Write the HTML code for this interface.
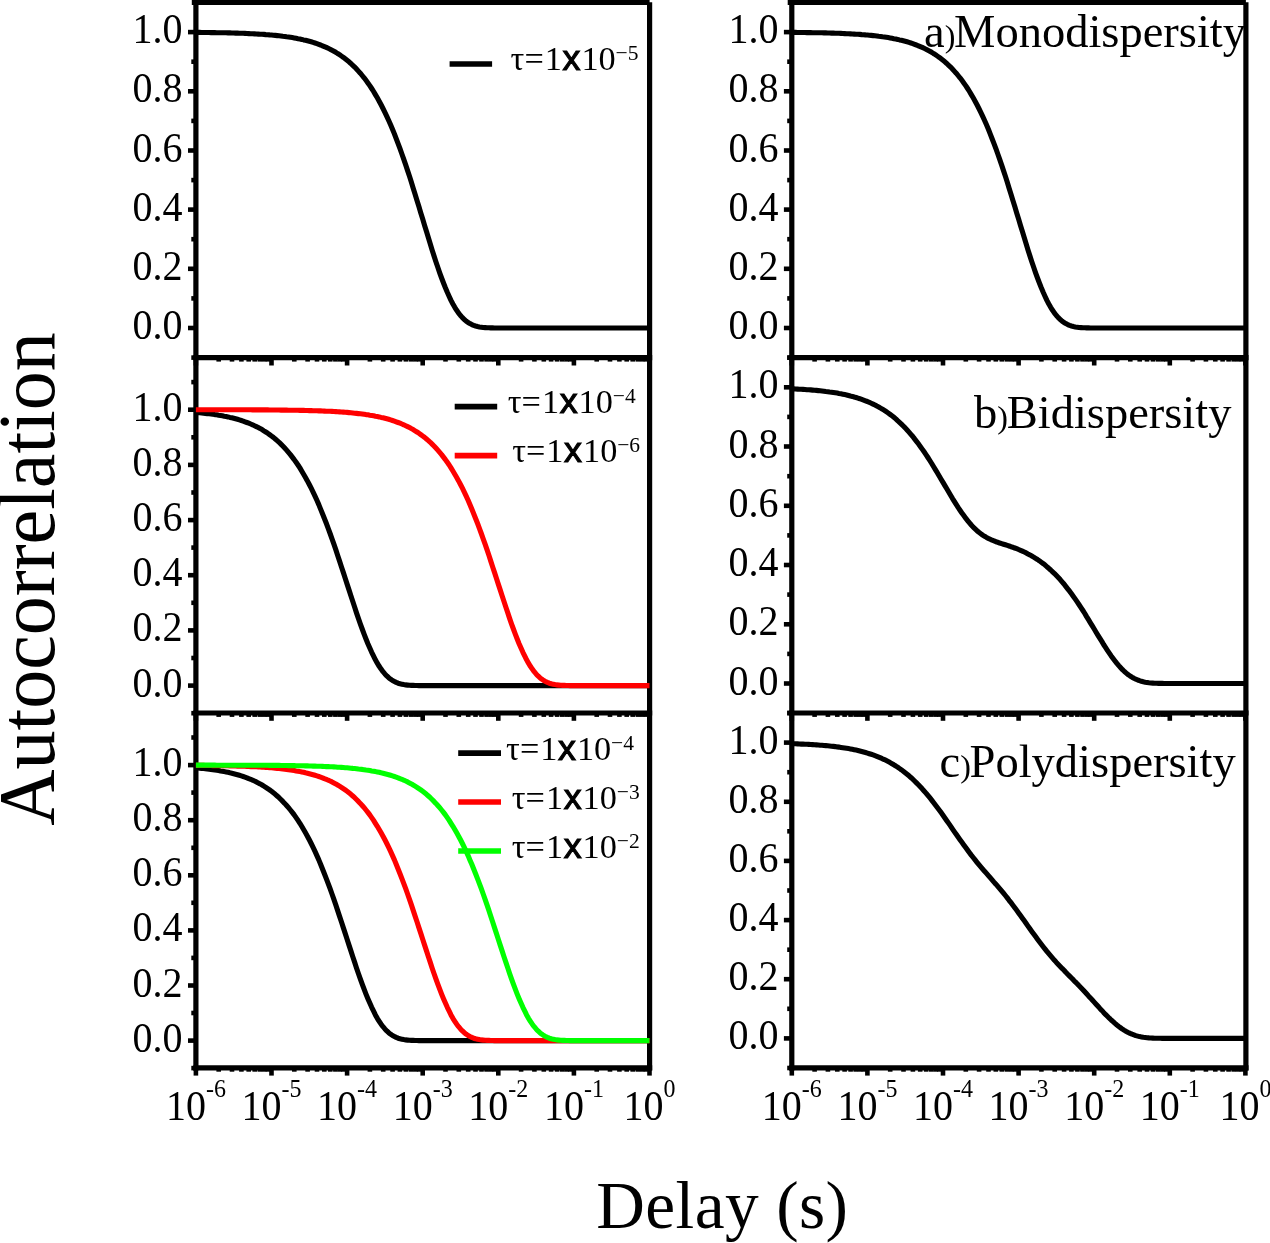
<!DOCTYPE html>
<html lang="en"><head><meta charset="utf-8"><title>Autocorrelation vs Delay</title>
<style>html,body{margin:0;padding:0;background:#fff}svg{display:block}</style>
</head><body>
<svg width="1270" height="1243" viewBox="0 0 1270 1243">
<rect width="1270" height="1243" fill="#fff"/>
<g stroke="#000" fill="none">
<line x1="195.9" y1="0" x2="195.9" y2="1070.3999999999999" stroke-width="5.2"/>
<line x1="649.6" y1="2.3" x2="649.6" y2="1070.3999999999999" stroke-width="5.2"/>
<line x1="191.8" y1="2.3" x2="649.6" y2="2.3" stroke-width="5.2"/>
<line x1="193.3" y1="357.7" x2="652.2" y2="357.7" stroke-width="5.2"/>
<line x1="193.3" y1="713.0" x2="652.2" y2="713.0" stroke-width="5.2"/>
<line x1="193.3" y1="1067.8" x2="652.2" y2="1067.8" stroke-width="5.2"/>
<line x1="195.9" y1="357.7" x2="195.9" y2="365.5" stroke-width="4.6"/>
<line x1="218.7" y1="357.7" x2="218.7" y2="361.6" stroke-width="4.6"/>
<line x1="232.0" y1="357.7" x2="232.0" y2="361.6" stroke-width="4.6"/>
<line x1="241.4" y1="357.7" x2="241.4" y2="361.6" stroke-width="4.6"/>
<line x1="248.7" y1="357.7" x2="248.7" y2="361.6" stroke-width="4.6"/>
<line x1="254.7" y1="357.7" x2="254.7" y2="361.6" stroke-width="4.6"/>
<line x1="259.8" y1="357.7" x2="259.8" y2="361.6" stroke-width="4.6"/>
<line x1="264.2" y1="357.7" x2="264.2" y2="361.6" stroke-width="4.6"/>
<line x1="268.0" y1="357.7" x2="268.0" y2="361.6" stroke-width="4.6"/>
<line x1="271.5" y1="357.7" x2="271.5" y2="365.5" stroke-width="4.6"/>
<line x1="294.3" y1="357.7" x2="294.3" y2="361.6" stroke-width="4.6"/>
<line x1="307.6" y1="357.7" x2="307.6" y2="361.6" stroke-width="4.6"/>
<line x1="317.0" y1="357.7" x2="317.0" y2="361.6" stroke-width="4.6"/>
<line x1="324.3" y1="357.7" x2="324.3" y2="361.6" stroke-width="4.6"/>
<line x1="330.3" y1="357.7" x2="330.3" y2="361.6" stroke-width="4.6"/>
<line x1="335.4" y1="357.7" x2="335.4" y2="361.6" stroke-width="4.6"/>
<line x1="339.8" y1="357.7" x2="339.8" y2="361.6" stroke-width="4.6"/>
<line x1="343.6" y1="357.7" x2="343.6" y2="361.6" stroke-width="4.6"/>
<line x1="347.1" y1="357.7" x2="347.1" y2="365.5" stroke-width="4.6"/>
<line x1="369.9" y1="357.7" x2="369.9" y2="361.6" stroke-width="4.6"/>
<line x1="383.2" y1="357.7" x2="383.2" y2="361.6" stroke-width="4.6"/>
<line x1="392.6" y1="357.7" x2="392.6" y2="361.6" stroke-width="4.6"/>
<line x1="399.9" y1="357.7" x2="399.9" y2="361.6" stroke-width="4.6"/>
<line x1="405.9" y1="357.7" x2="405.9" y2="361.6" stroke-width="4.6"/>
<line x1="411.0" y1="357.7" x2="411.0" y2="361.6" stroke-width="4.6"/>
<line x1="415.4" y1="357.7" x2="415.4" y2="361.6" stroke-width="4.6"/>
<line x1="419.2" y1="357.7" x2="419.2" y2="361.6" stroke-width="4.6"/>
<line x1="422.7" y1="357.7" x2="422.7" y2="365.5" stroke-width="4.6"/>
<line x1="445.5" y1="357.7" x2="445.5" y2="361.6" stroke-width="4.6"/>
<line x1="458.8" y1="357.7" x2="458.8" y2="361.6" stroke-width="4.6"/>
<line x1="468.2" y1="357.7" x2="468.2" y2="361.6" stroke-width="4.6"/>
<line x1="475.5" y1="357.7" x2="475.5" y2="361.6" stroke-width="4.6"/>
<line x1="481.5" y1="357.7" x2="481.5" y2="361.6" stroke-width="4.6"/>
<line x1="486.6" y1="357.7" x2="486.6" y2="361.6" stroke-width="4.6"/>
<line x1="491.0" y1="357.7" x2="491.0" y2="361.6" stroke-width="4.6"/>
<line x1="494.8" y1="357.7" x2="494.8" y2="361.6" stroke-width="4.6"/>
<line x1="498.3" y1="357.7" x2="498.3" y2="365.5" stroke-width="4.6"/>
<line x1="521.1" y1="357.7" x2="521.1" y2="361.6" stroke-width="4.6"/>
<line x1="534.4" y1="357.7" x2="534.4" y2="361.6" stroke-width="4.6"/>
<line x1="543.8" y1="357.7" x2="543.8" y2="361.6" stroke-width="4.6"/>
<line x1="551.1" y1="357.7" x2="551.1" y2="361.6" stroke-width="4.6"/>
<line x1="557.1" y1="357.7" x2="557.1" y2="361.6" stroke-width="4.6"/>
<line x1="562.2" y1="357.7" x2="562.2" y2="361.6" stroke-width="4.6"/>
<line x1="566.6" y1="357.7" x2="566.6" y2="361.6" stroke-width="4.6"/>
<line x1="570.4" y1="357.7" x2="570.4" y2="361.6" stroke-width="4.6"/>
<line x1="573.9" y1="357.7" x2="573.9" y2="365.5" stroke-width="4.6"/>
<line x1="596.7" y1="357.7" x2="596.7" y2="361.6" stroke-width="4.6"/>
<line x1="610.0" y1="357.7" x2="610.0" y2="361.6" stroke-width="4.6"/>
<line x1="619.4" y1="357.7" x2="619.4" y2="361.6" stroke-width="4.6"/>
<line x1="626.7" y1="357.7" x2="626.7" y2="361.6" stroke-width="4.6"/>
<line x1="632.7" y1="357.7" x2="632.7" y2="361.6" stroke-width="4.6"/>
<line x1="637.8" y1="357.7" x2="637.8" y2="361.6" stroke-width="4.6"/>
<line x1="642.2" y1="357.7" x2="642.2" y2="361.6" stroke-width="4.6"/>
<line x1="646.0" y1="357.7" x2="646.0" y2="361.6" stroke-width="4.6"/>
<line x1="649.5" y1="357.7" x2="649.5" y2="365.5" stroke-width="4.6"/>
<line x1="195.9" y1="713.0" x2="195.9" y2="720.8" stroke-width="4.6"/>
<line x1="218.7" y1="713.0" x2="218.7" y2="716.9" stroke-width="4.6"/>
<line x1="232.0" y1="713.0" x2="232.0" y2="716.9" stroke-width="4.6"/>
<line x1="241.4" y1="713.0" x2="241.4" y2="716.9" stroke-width="4.6"/>
<line x1="248.7" y1="713.0" x2="248.7" y2="716.9" stroke-width="4.6"/>
<line x1="254.7" y1="713.0" x2="254.7" y2="716.9" stroke-width="4.6"/>
<line x1="259.8" y1="713.0" x2="259.8" y2="716.9" stroke-width="4.6"/>
<line x1="264.2" y1="713.0" x2="264.2" y2="716.9" stroke-width="4.6"/>
<line x1="268.0" y1="713.0" x2="268.0" y2="716.9" stroke-width="4.6"/>
<line x1="271.5" y1="713.0" x2="271.5" y2="720.8" stroke-width="4.6"/>
<line x1="294.3" y1="713.0" x2="294.3" y2="716.9" stroke-width="4.6"/>
<line x1="307.6" y1="713.0" x2="307.6" y2="716.9" stroke-width="4.6"/>
<line x1="317.0" y1="713.0" x2="317.0" y2="716.9" stroke-width="4.6"/>
<line x1="324.3" y1="713.0" x2="324.3" y2="716.9" stroke-width="4.6"/>
<line x1="330.3" y1="713.0" x2="330.3" y2="716.9" stroke-width="4.6"/>
<line x1="335.4" y1="713.0" x2="335.4" y2="716.9" stroke-width="4.6"/>
<line x1="339.8" y1="713.0" x2="339.8" y2="716.9" stroke-width="4.6"/>
<line x1="343.6" y1="713.0" x2="343.6" y2="716.9" stroke-width="4.6"/>
<line x1="347.1" y1="713.0" x2="347.1" y2="720.8" stroke-width="4.6"/>
<line x1="369.9" y1="713.0" x2="369.9" y2="716.9" stroke-width="4.6"/>
<line x1="383.2" y1="713.0" x2="383.2" y2="716.9" stroke-width="4.6"/>
<line x1="392.6" y1="713.0" x2="392.6" y2="716.9" stroke-width="4.6"/>
<line x1="399.9" y1="713.0" x2="399.9" y2="716.9" stroke-width="4.6"/>
<line x1="405.9" y1="713.0" x2="405.9" y2="716.9" stroke-width="4.6"/>
<line x1="411.0" y1="713.0" x2="411.0" y2="716.9" stroke-width="4.6"/>
<line x1="415.4" y1="713.0" x2="415.4" y2="716.9" stroke-width="4.6"/>
<line x1="419.2" y1="713.0" x2="419.2" y2="716.9" stroke-width="4.6"/>
<line x1="422.7" y1="713.0" x2="422.7" y2="720.8" stroke-width="4.6"/>
<line x1="445.5" y1="713.0" x2="445.5" y2="716.9" stroke-width="4.6"/>
<line x1="458.8" y1="713.0" x2="458.8" y2="716.9" stroke-width="4.6"/>
<line x1="468.2" y1="713.0" x2="468.2" y2="716.9" stroke-width="4.6"/>
<line x1="475.5" y1="713.0" x2="475.5" y2="716.9" stroke-width="4.6"/>
<line x1="481.5" y1="713.0" x2="481.5" y2="716.9" stroke-width="4.6"/>
<line x1="486.6" y1="713.0" x2="486.6" y2="716.9" stroke-width="4.6"/>
<line x1="491.0" y1="713.0" x2="491.0" y2="716.9" stroke-width="4.6"/>
<line x1="494.8" y1="713.0" x2="494.8" y2="716.9" stroke-width="4.6"/>
<line x1="498.3" y1="713.0" x2="498.3" y2="720.8" stroke-width="4.6"/>
<line x1="521.1" y1="713.0" x2="521.1" y2="716.9" stroke-width="4.6"/>
<line x1="534.4" y1="713.0" x2="534.4" y2="716.9" stroke-width="4.6"/>
<line x1="543.8" y1="713.0" x2="543.8" y2="716.9" stroke-width="4.6"/>
<line x1="551.1" y1="713.0" x2="551.1" y2="716.9" stroke-width="4.6"/>
<line x1="557.1" y1="713.0" x2="557.1" y2="716.9" stroke-width="4.6"/>
<line x1="562.2" y1="713.0" x2="562.2" y2="716.9" stroke-width="4.6"/>
<line x1="566.6" y1="713.0" x2="566.6" y2="716.9" stroke-width="4.6"/>
<line x1="570.4" y1="713.0" x2="570.4" y2="716.9" stroke-width="4.6"/>
<line x1="573.9" y1="713.0" x2="573.9" y2="720.8" stroke-width="4.6"/>
<line x1="596.7" y1="713.0" x2="596.7" y2="716.9" stroke-width="4.6"/>
<line x1="610.0" y1="713.0" x2="610.0" y2="716.9" stroke-width="4.6"/>
<line x1="619.4" y1="713.0" x2="619.4" y2="716.9" stroke-width="4.6"/>
<line x1="626.7" y1="713.0" x2="626.7" y2="716.9" stroke-width="4.6"/>
<line x1="632.7" y1="713.0" x2="632.7" y2="716.9" stroke-width="4.6"/>
<line x1="637.8" y1="713.0" x2="637.8" y2="716.9" stroke-width="4.6"/>
<line x1="642.2" y1="713.0" x2="642.2" y2="716.9" stroke-width="4.6"/>
<line x1="646.0" y1="713.0" x2="646.0" y2="716.9" stroke-width="4.6"/>
<line x1="649.5" y1="713.0" x2="649.5" y2="720.8" stroke-width="4.6"/>
<line x1="195.9" y1="1067.8" x2="195.9" y2="1075.6" stroke-width="4.6"/>
<line x1="218.7" y1="1067.8" x2="218.7" y2="1071.7" stroke-width="4.6"/>
<line x1="232.0" y1="1067.8" x2="232.0" y2="1071.7" stroke-width="4.6"/>
<line x1="241.4" y1="1067.8" x2="241.4" y2="1071.7" stroke-width="4.6"/>
<line x1="248.7" y1="1067.8" x2="248.7" y2="1071.7" stroke-width="4.6"/>
<line x1="254.7" y1="1067.8" x2="254.7" y2="1071.7" stroke-width="4.6"/>
<line x1="259.8" y1="1067.8" x2="259.8" y2="1071.7" stroke-width="4.6"/>
<line x1="264.2" y1="1067.8" x2="264.2" y2="1071.7" stroke-width="4.6"/>
<line x1="268.0" y1="1067.8" x2="268.0" y2="1071.7" stroke-width="4.6"/>
<line x1="271.5" y1="1067.8" x2="271.5" y2="1075.6" stroke-width="4.6"/>
<line x1="294.3" y1="1067.8" x2="294.3" y2="1071.7" stroke-width="4.6"/>
<line x1="307.6" y1="1067.8" x2="307.6" y2="1071.7" stroke-width="4.6"/>
<line x1="317.0" y1="1067.8" x2="317.0" y2="1071.7" stroke-width="4.6"/>
<line x1="324.3" y1="1067.8" x2="324.3" y2="1071.7" stroke-width="4.6"/>
<line x1="330.3" y1="1067.8" x2="330.3" y2="1071.7" stroke-width="4.6"/>
<line x1="335.4" y1="1067.8" x2="335.4" y2="1071.7" stroke-width="4.6"/>
<line x1="339.8" y1="1067.8" x2="339.8" y2="1071.7" stroke-width="4.6"/>
<line x1="343.6" y1="1067.8" x2="343.6" y2="1071.7" stroke-width="4.6"/>
<line x1="347.1" y1="1067.8" x2="347.1" y2="1075.6" stroke-width="4.6"/>
<line x1="369.9" y1="1067.8" x2="369.9" y2="1071.7" stroke-width="4.6"/>
<line x1="383.2" y1="1067.8" x2="383.2" y2="1071.7" stroke-width="4.6"/>
<line x1="392.6" y1="1067.8" x2="392.6" y2="1071.7" stroke-width="4.6"/>
<line x1="399.9" y1="1067.8" x2="399.9" y2="1071.7" stroke-width="4.6"/>
<line x1="405.9" y1="1067.8" x2="405.9" y2="1071.7" stroke-width="4.6"/>
<line x1="411.0" y1="1067.8" x2="411.0" y2="1071.7" stroke-width="4.6"/>
<line x1="415.4" y1="1067.8" x2="415.4" y2="1071.7" stroke-width="4.6"/>
<line x1="419.2" y1="1067.8" x2="419.2" y2="1071.7" stroke-width="4.6"/>
<line x1="422.7" y1="1067.8" x2="422.7" y2="1075.6" stroke-width="4.6"/>
<line x1="445.5" y1="1067.8" x2="445.5" y2="1071.7" stroke-width="4.6"/>
<line x1="458.8" y1="1067.8" x2="458.8" y2="1071.7" stroke-width="4.6"/>
<line x1="468.2" y1="1067.8" x2="468.2" y2="1071.7" stroke-width="4.6"/>
<line x1="475.5" y1="1067.8" x2="475.5" y2="1071.7" stroke-width="4.6"/>
<line x1="481.5" y1="1067.8" x2="481.5" y2="1071.7" stroke-width="4.6"/>
<line x1="486.6" y1="1067.8" x2="486.6" y2="1071.7" stroke-width="4.6"/>
<line x1="491.0" y1="1067.8" x2="491.0" y2="1071.7" stroke-width="4.6"/>
<line x1="494.8" y1="1067.8" x2="494.8" y2="1071.7" stroke-width="4.6"/>
<line x1="498.3" y1="1067.8" x2="498.3" y2="1075.6" stroke-width="4.6"/>
<line x1="521.1" y1="1067.8" x2="521.1" y2="1071.7" stroke-width="4.6"/>
<line x1="534.4" y1="1067.8" x2="534.4" y2="1071.7" stroke-width="4.6"/>
<line x1="543.8" y1="1067.8" x2="543.8" y2="1071.7" stroke-width="4.6"/>
<line x1="551.1" y1="1067.8" x2="551.1" y2="1071.7" stroke-width="4.6"/>
<line x1="557.1" y1="1067.8" x2="557.1" y2="1071.7" stroke-width="4.6"/>
<line x1="562.2" y1="1067.8" x2="562.2" y2="1071.7" stroke-width="4.6"/>
<line x1="566.6" y1="1067.8" x2="566.6" y2="1071.7" stroke-width="4.6"/>
<line x1="570.4" y1="1067.8" x2="570.4" y2="1071.7" stroke-width="4.6"/>
<line x1="573.9" y1="1067.8" x2="573.9" y2="1075.6" stroke-width="4.6"/>
<line x1="596.7" y1="1067.8" x2="596.7" y2="1071.7" stroke-width="4.6"/>
<line x1="610.0" y1="1067.8" x2="610.0" y2="1071.7" stroke-width="4.6"/>
<line x1="619.4" y1="1067.8" x2="619.4" y2="1071.7" stroke-width="4.6"/>
<line x1="626.7" y1="1067.8" x2="626.7" y2="1071.7" stroke-width="4.6"/>
<line x1="632.7" y1="1067.8" x2="632.7" y2="1071.7" stroke-width="4.6"/>
<line x1="637.8" y1="1067.8" x2="637.8" y2="1071.7" stroke-width="4.6"/>
<line x1="642.2" y1="1067.8" x2="642.2" y2="1071.7" stroke-width="4.6"/>
<line x1="646.0" y1="1067.8" x2="646.0" y2="1071.7" stroke-width="4.6"/>
<line x1="649.5" y1="1067.8" x2="649.5" y2="1075.6" stroke-width="4.6"/>
<line x1="191.3" y1="357.6" x2="195.9" y2="357.6" stroke-width="4.6"/>
<line x1="188.0" y1="328.0" x2="195.9" y2="328.0" stroke-width="4.6"/>
<line x1="191.3" y1="298.4" x2="195.9" y2="298.4" stroke-width="4.6"/>
<line x1="188.0" y1="268.8" x2="195.9" y2="268.8" stroke-width="4.6"/>
<line x1="191.3" y1="239.2" x2="195.9" y2="239.2" stroke-width="4.6"/>
<line x1="188.0" y1="209.6" x2="195.9" y2="209.6" stroke-width="4.6"/>
<line x1="191.3" y1="180.1" x2="195.9" y2="180.1" stroke-width="4.6"/>
<line x1="188.0" y1="150.5" x2="195.9" y2="150.5" stroke-width="4.6"/>
<line x1="191.3" y1="120.9" x2="195.9" y2="120.9" stroke-width="4.6"/>
<line x1="188.0" y1="91.3" x2="195.9" y2="91.3" stroke-width="4.6"/>
<line x1="191.3" y1="61.7" x2="195.9" y2="61.7" stroke-width="4.6"/>
<line x1="188.0" y1="32.1" x2="195.9" y2="32.1" stroke-width="4.6"/>
<line x1="191.3" y1="713.2" x2="195.9" y2="713.2" stroke-width="4.6"/>
<line x1="188.0" y1="685.6" x2="195.9" y2="685.6" stroke-width="4.6"/>
<line x1="191.3" y1="658.0" x2="195.9" y2="658.0" stroke-width="4.6"/>
<line x1="188.0" y1="630.4" x2="195.9" y2="630.4" stroke-width="4.6"/>
<line x1="191.3" y1="602.8" x2="195.9" y2="602.8" stroke-width="4.6"/>
<line x1="188.0" y1="575.2" x2="195.9" y2="575.2" stroke-width="4.6"/>
<line x1="191.3" y1="547.6" x2="195.9" y2="547.6" stroke-width="4.6"/>
<line x1="188.0" y1="520.1" x2="195.9" y2="520.1" stroke-width="4.6"/>
<line x1="191.3" y1="492.5" x2="195.9" y2="492.5" stroke-width="4.6"/>
<line x1="188.0" y1="464.9" x2="195.9" y2="464.9" stroke-width="4.6"/>
<line x1="191.3" y1="437.3" x2="195.9" y2="437.3" stroke-width="4.6"/>
<line x1="188.0" y1="409.7" x2="195.9" y2="409.7" stroke-width="4.6"/>
<line x1="191.3" y1="382.1" x2="195.9" y2="382.1" stroke-width="4.6"/>
<line x1="191.3" y1="1068.1" x2="195.9" y2="1068.1" stroke-width="4.6"/>
<line x1="188.0" y1="1040.6" x2="195.9" y2="1040.6" stroke-width="4.6"/>
<line x1="191.3" y1="1013.0" x2="195.9" y2="1013.0" stroke-width="4.6"/>
<line x1="188.0" y1="985.5" x2="195.9" y2="985.5" stroke-width="4.6"/>
<line x1="191.3" y1="957.9" x2="195.9" y2="957.9" stroke-width="4.6"/>
<line x1="188.0" y1="930.4" x2="195.9" y2="930.4" stroke-width="4.6"/>
<line x1="191.3" y1="902.8" x2="195.9" y2="902.8" stroke-width="4.6"/>
<line x1="188.0" y1="875.3" x2="195.9" y2="875.3" stroke-width="4.6"/>
<line x1="191.3" y1="847.8" x2="195.9" y2="847.8" stroke-width="4.6"/>
<line x1="188.0" y1="820.2" x2="195.9" y2="820.2" stroke-width="4.6"/>
<line x1="191.3" y1="792.6" x2="195.9" y2="792.6" stroke-width="4.6"/>
<line x1="188.0" y1="765.1" x2="195.9" y2="765.1" stroke-width="4.6"/>
<line x1="191.3" y1="737.5" x2="195.9" y2="737.5" stroke-width="4.6"/>
<line x1="791.8" y1="0" x2="791.8" y2="1070.3999999999999" stroke-width="5.2"/>
<line x1="1245.9" y1="2.3" x2="1245.9" y2="1070.3999999999999" stroke-width="5.2"/>
<line x1="787.6999999999999" y1="2.3" x2="1245.9" y2="2.3" stroke-width="5.2"/>
<line x1="789.1999999999999" y1="357.7" x2="1248.5" y2="357.7" stroke-width="5.2"/>
<line x1="789.1999999999999" y1="713.0" x2="1248.5" y2="713.0" stroke-width="5.2"/>
<line x1="789.1999999999999" y1="1067.8" x2="1248.5" y2="1067.8" stroke-width="5.2"/>
<line x1="791.8" y1="357.7" x2="791.8" y2="365.5" stroke-width="4.6"/>
<line x1="814.6" y1="357.7" x2="814.6" y2="361.6" stroke-width="4.6"/>
<line x1="827.9" y1="357.7" x2="827.9" y2="361.6" stroke-width="4.6"/>
<line x1="837.3" y1="357.7" x2="837.3" y2="361.6" stroke-width="4.6"/>
<line x1="844.6" y1="357.7" x2="844.6" y2="361.6" stroke-width="4.6"/>
<line x1="850.6" y1="357.7" x2="850.6" y2="361.6" stroke-width="4.6"/>
<line x1="855.7" y1="357.7" x2="855.7" y2="361.6" stroke-width="4.6"/>
<line x1="860.1" y1="357.7" x2="860.1" y2="361.6" stroke-width="4.6"/>
<line x1="863.9" y1="357.7" x2="863.9" y2="361.6" stroke-width="4.6"/>
<line x1="867.4" y1="357.7" x2="867.4" y2="365.5" stroke-width="4.6"/>
<line x1="890.2" y1="357.7" x2="890.2" y2="361.6" stroke-width="4.6"/>
<line x1="903.5" y1="357.7" x2="903.5" y2="361.6" stroke-width="4.6"/>
<line x1="912.9" y1="357.7" x2="912.9" y2="361.6" stroke-width="4.6"/>
<line x1="920.2" y1="357.7" x2="920.2" y2="361.6" stroke-width="4.6"/>
<line x1="926.2" y1="357.7" x2="926.2" y2="361.6" stroke-width="4.6"/>
<line x1="931.3" y1="357.7" x2="931.3" y2="361.6" stroke-width="4.6"/>
<line x1="935.7" y1="357.7" x2="935.7" y2="361.6" stroke-width="4.6"/>
<line x1="939.5" y1="357.7" x2="939.5" y2="361.6" stroke-width="4.6"/>
<line x1="943.0" y1="357.7" x2="943.0" y2="365.5" stroke-width="4.6"/>
<line x1="965.8" y1="357.7" x2="965.8" y2="361.6" stroke-width="4.6"/>
<line x1="979.1" y1="357.7" x2="979.1" y2="361.6" stroke-width="4.6"/>
<line x1="988.5" y1="357.7" x2="988.5" y2="361.6" stroke-width="4.6"/>
<line x1="995.8" y1="357.7" x2="995.8" y2="361.6" stroke-width="4.6"/>
<line x1="1001.8" y1="357.7" x2="1001.8" y2="361.6" stroke-width="4.6"/>
<line x1="1006.9" y1="357.7" x2="1006.9" y2="361.6" stroke-width="4.6"/>
<line x1="1011.3" y1="357.7" x2="1011.3" y2="361.6" stroke-width="4.6"/>
<line x1="1015.1" y1="357.7" x2="1015.1" y2="361.6" stroke-width="4.6"/>
<line x1="1018.6" y1="357.7" x2="1018.6" y2="365.5" stroke-width="4.6"/>
<line x1="1041.4" y1="357.7" x2="1041.4" y2="361.6" stroke-width="4.6"/>
<line x1="1054.7" y1="357.7" x2="1054.7" y2="361.6" stroke-width="4.6"/>
<line x1="1064.1" y1="357.7" x2="1064.1" y2="361.6" stroke-width="4.6"/>
<line x1="1071.4" y1="357.7" x2="1071.4" y2="361.6" stroke-width="4.6"/>
<line x1="1077.4" y1="357.7" x2="1077.4" y2="361.6" stroke-width="4.6"/>
<line x1="1082.5" y1="357.7" x2="1082.5" y2="361.6" stroke-width="4.6"/>
<line x1="1086.9" y1="357.7" x2="1086.9" y2="361.6" stroke-width="4.6"/>
<line x1="1090.7" y1="357.7" x2="1090.7" y2="361.6" stroke-width="4.6"/>
<line x1="1094.2" y1="357.7" x2="1094.2" y2="365.5" stroke-width="4.6"/>
<line x1="1117.0" y1="357.7" x2="1117.0" y2="361.6" stroke-width="4.6"/>
<line x1="1130.3" y1="357.7" x2="1130.3" y2="361.6" stroke-width="4.6"/>
<line x1="1139.7" y1="357.7" x2="1139.7" y2="361.6" stroke-width="4.6"/>
<line x1="1147.0" y1="357.7" x2="1147.0" y2="361.6" stroke-width="4.6"/>
<line x1="1153.0" y1="357.7" x2="1153.0" y2="361.6" stroke-width="4.6"/>
<line x1="1158.1" y1="357.7" x2="1158.1" y2="361.6" stroke-width="4.6"/>
<line x1="1162.5" y1="357.7" x2="1162.5" y2="361.6" stroke-width="4.6"/>
<line x1="1166.3" y1="357.7" x2="1166.3" y2="361.6" stroke-width="4.6"/>
<line x1="1169.8" y1="357.7" x2="1169.8" y2="365.5" stroke-width="4.6"/>
<line x1="1192.6" y1="357.7" x2="1192.6" y2="361.6" stroke-width="4.6"/>
<line x1="1205.9" y1="357.7" x2="1205.9" y2="361.6" stroke-width="4.6"/>
<line x1="1215.3" y1="357.7" x2="1215.3" y2="361.6" stroke-width="4.6"/>
<line x1="1222.6" y1="357.7" x2="1222.6" y2="361.6" stroke-width="4.6"/>
<line x1="1228.6" y1="357.7" x2="1228.6" y2="361.6" stroke-width="4.6"/>
<line x1="1233.7" y1="357.7" x2="1233.7" y2="361.6" stroke-width="4.6"/>
<line x1="1238.1" y1="357.7" x2="1238.1" y2="361.6" stroke-width="4.6"/>
<line x1="1241.9" y1="357.7" x2="1241.9" y2="361.6" stroke-width="4.6"/>
<line x1="1245.4" y1="357.7" x2="1245.4" y2="365.5" stroke-width="4.6"/>
<line x1="791.8" y1="713.0" x2="791.8" y2="720.8" stroke-width="4.6"/>
<line x1="814.6" y1="713.0" x2="814.6" y2="716.9" stroke-width="4.6"/>
<line x1="827.9" y1="713.0" x2="827.9" y2="716.9" stroke-width="4.6"/>
<line x1="837.3" y1="713.0" x2="837.3" y2="716.9" stroke-width="4.6"/>
<line x1="844.6" y1="713.0" x2="844.6" y2="716.9" stroke-width="4.6"/>
<line x1="850.6" y1="713.0" x2="850.6" y2="716.9" stroke-width="4.6"/>
<line x1="855.7" y1="713.0" x2="855.7" y2="716.9" stroke-width="4.6"/>
<line x1="860.1" y1="713.0" x2="860.1" y2="716.9" stroke-width="4.6"/>
<line x1="863.9" y1="713.0" x2="863.9" y2="716.9" stroke-width="4.6"/>
<line x1="867.4" y1="713.0" x2="867.4" y2="720.8" stroke-width="4.6"/>
<line x1="890.2" y1="713.0" x2="890.2" y2="716.9" stroke-width="4.6"/>
<line x1="903.5" y1="713.0" x2="903.5" y2="716.9" stroke-width="4.6"/>
<line x1="912.9" y1="713.0" x2="912.9" y2="716.9" stroke-width="4.6"/>
<line x1="920.2" y1="713.0" x2="920.2" y2="716.9" stroke-width="4.6"/>
<line x1="926.2" y1="713.0" x2="926.2" y2="716.9" stroke-width="4.6"/>
<line x1="931.3" y1="713.0" x2="931.3" y2="716.9" stroke-width="4.6"/>
<line x1="935.7" y1="713.0" x2="935.7" y2="716.9" stroke-width="4.6"/>
<line x1="939.5" y1="713.0" x2="939.5" y2="716.9" stroke-width="4.6"/>
<line x1="943.0" y1="713.0" x2="943.0" y2="720.8" stroke-width="4.6"/>
<line x1="965.8" y1="713.0" x2="965.8" y2="716.9" stroke-width="4.6"/>
<line x1="979.1" y1="713.0" x2="979.1" y2="716.9" stroke-width="4.6"/>
<line x1="988.5" y1="713.0" x2="988.5" y2="716.9" stroke-width="4.6"/>
<line x1="995.8" y1="713.0" x2="995.8" y2="716.9" stroke-width="4.6"/>
<line x1="1001.8" y1="713.0" x2="1001.8" y2="716.9" stroke-width="4.6"/>
<line x1="1006.9" y1="713.0" x2="1006.9" y2="716.9" stroke-width="4.6"/>
<line x1="1011.3" y1="713.0" x2="1011.3" y2="716.9" stroke-width="4.6"/>
<line x1="1015.1" y1="713.0" x2="1015.1" y2="716.9" stroke-width="4.6"/>
<line x1="1018.6" y1="713.0" x2="1018.6" y2="720.8" stroke-width="4.6"/>
<line x1="1041.4" y1="713.0" x2="1041.4" y2="716.9" stroke-width="4.6"/>
<line x1="1054.7" y1="713.0" x2="1054.7" y2="716.9" stroke-width="4.6"/>
<line x1="1064.1" y1="713.0" x2="1064.1" y2="716.9" stroke-width="4.6"/>
<line x1="1071.4" y1="713.0" x2="1071.4" y2="716.9" stroke-width="4.6"/>
<line x1="1077.4" y1="713.0" x2="1077.4" y2="716.9" stroke-width="4.6"/>
<line x1="1082.5" y1="713.0" x2="1082.5" y2="716.9" stroke-width="4.6"/>
<line x1="1086.9" y1="713.0" x2="1086.9" y2="716.9" stroke-width="4.6"/>
<line x1="1090.7" y1="713.0" x2="1090.7" y2="716.9" stroke-width="4.6"/>
<line x1="1094.2" y1="713.0" x2="1094.2" y2="720.8" stroke-width="4.6"/>
<line x1="1117.0" y1="713.0" x2="1117.0" y2="716.9" stroke-width="4.6"/>
<line x1="1130.3" y1="713.0" x2="1130.3" y2="716.9" stroke-width="4.6"/>
<line x1="1139.7" y1="713.0" x2="1139.7" y2="716.9" stroke-width="4.6"/>
<line x1="1147.0" y1="713.0" x2="1147.0" y2="716.9" stroke-width="4.6"/>
<line x1="1153.0" y1="713.0" x2="1153.0" y2="716.9" stroke-width="4.6"/>
<line x1="1158.1" y1="713.0" x2="1158.1" y2="716.9" stroke-width="4.6"/>
<line x1="1162.5" y1="713.0" x2="1162.5" y2="716.9" stroke-width="4.6"/>
<line x1="1166.3" y1="713.0" x2="1166.3" y2="716.9" stroke-width="4.6"/>
<line x1="1169.8" y1="713.0" x2="1169.8" y2="720.8" stroke-width="4.6"/>
<line x1="1192.6" y1="713.0" x2="1192.6" y2="716.9" stroke-width="4.6"/>
<line x1="1205.9" y1="713.0" x2="1205.9" y2="716.9" stroke-width="4.6"/>
<line x1="1215.3" y1="713.0" x2="1215.3" y2="716.9" stroke-width="4.6"/>
<line x1="1222.6" y1="713.0" x2="1222.6" y2="716.9" stroke-width="4.6"/>
<line x1="1228.6" y1="713.0" x2="1228.6" y2="716.9" stroke-width="4.6"/>
<line x1="1233.7" y1="713.0" x2="1233.7" y2="716.9" stroke-width="4.6"/>
<line x1="1238.1" y1="713.0" x2="1238.1" y2="716.9" stroke-width="4.6"/>
<line x1="1241.9" y1="713.0" x2="1241.9" y2="716.9" stroke-width="4.6"/>
<line x1="1245.4" y1="713.0" x2="1245.4" y2="720.8" stroke-width="4.6"/>
<line x1="791.8" y1="1067.8" x2="791.8" y2="1075.6" stroke-width="4.6"/>
<line x1="814.6" y1="1067.8" x2="814.6" y2="1071.7" stroke-width="4.6"/>
<line x1="827.9" y1="1067.8" x2="827.9" y2="1071.7" stroke-width="4.6"/>
<line x1="837.3" y1="1067.8" x2="837.3" y2="1071.7" stroke-width="4.6"/>
<line x1="844.6" y1="1067.8" x2="844.6" y2="1071.7" stroke-width="4.6"/>
<line x1="850.6" y1="1067.8" x2="850.6" y2="1071.7" stroke-width="4.6"/>
<line x1="855.7" y1="1067.8" x2="855.7" y2="1071.7" stroke-width="4.6"/>
<line x1="860.1" y1="1067.8" x2="860.1" y2="1071.7" stroke-width="4.6"/>
<line x1="863.9" y1="1067.8" x2="863.9" y2="1071.7" stroke-width="4.6"/>
<line x1="867.4" y1="1067.8" x2="867.4" y2="1075.6" stroke-width="4.6"/>
<line x1="890.2" y1="1067.8" x2="890.2" y2="1071.7" stroke-width="4.6"/>
<line x1="903.5" y1="1067.8" x2="903.5" y2="1071.7" stroke-width="4.6"/>
<line x1="912.9" y1="1067.8" x2="912.9" y2="1071.7" stroke-width="4.6"/>
<line x1="920.2" y1="1067.8" x2="920.2" y2="1071.7" stroke-width="4.6"/>
<line x1="926.2" y1="1067.8" x2="926.2" y2="1071.7" stroke-width="4.6"/>
<line x1="931.3" y1="1067.8" x2="931.3" y2="1071.7" stroke-width="4.6"/>
<line x1="935.7" y1="1067.8" x2="935.7" y2="1071.7" stroke-width="4.6"/>
<line x1="939.5" y1="1067.8" x2="939.5" y2="1071.7" stroke-width="4.6"/>
<line x1="943.0" y1="1067.8" x2="943.0" y2="1075.6" stroke-width="4.6"/>
<line x1="965.8" y1="1067.8" x2="965.8" y2="1071.7" stroke-width="4.6"/>
<line x1="979.1" y1="1067.8" x2="979.1" y2="1071.7" stroke-width="4.6"/>
<line x1="988.5" y1="1067.8" x2="988.5" y2="1071.7" stroke-width="4.6"/>
<line x1="995.8" y1="1067.8" x2="995.8" y2="1071.7" stroke-width="4.6"/>
<line x1="1001.8" y1="1067.8" x2="1001.8" y2="1071.7" stroke-width="4.6"/>
<line x1="1006.9" y1="1067.8" x2="1006.9" y2="1071.7" stroke-width="4.6"/>
<line x1="1011.3" y1="1067.8" x2="1011.3" y2="1071.7" stroke-width="4.6"/>
<line x1="1015.1" y1="1067.8" x2="1015.1" y2="1071.7" stroke-width="4.6"/>
<line x1="1018.6" y1="1067.8" x2="1018.6" y2="1075.6" stroke-width="4.6"/>
<line x1="1041.4" y1="1067.8" x2="1041.4" y2="1071.7" stroke-width="4.6"/>
<line x1="1054.7" y1="1067.8" x2="1054.7" y2="1071.7" stroke-width="4.6"/>
<line x1="1064.1" y1="1067.8" x2="1064.1" y2="1071.7" stroke-width="4.6"/>
<line x1="1071.4" y1="1067.8" x2="1071.4" y2="1071.7" stroke-width="4.6"/>
<line x1="1077.4" y1="1067.8" x2="1077.4" y2="1071.7" stroke-width="4.6"/>
<line x1="1082.5" y1="1067.8" x2="1082.5" y2="1071.7" stroke-width="4.6"/>
<line x1="1086.9" y1="1067.8" x2="1086.9" y2="1071.7" stroke-width="4.6"/>
<line x1="1090.7" y1="1067.8" x2="1090.7" y2="1071.7" stroke-width="4.6"/>
<line x1="1094.2" y1="1067.8" x2="1094.2" y2="1075.6" stroke-width="4.6"/>
<line x1="1117.0" y1="1067.8" x2="1117.0" y2="1071.7" stroke-width="4.6"/>
<line x1="1130.3" y1="1067.8" x2="1130.3" y2="1071.7" stroke-width="4.6"/>
<line x1="1139.7" y1="1067.8" x2="1139.7" y2="1071.7" stroke-width="4.6"/>
<line x1="1147.0" y1="1067.8" x2="1147.0" y2="1071.7" stroke-width="4.6"/>
<line x1="1153.0" y1="1067.8" x2="1153.0" y2="1071.7" stroke-width="4.6"/>
<line x1="1158.1" y1="1067.8" x2="1158.1" y2="1071.7" stroke-width="4.6"/>
<line x1="1162.5" y1="1067.8" x2="1162.5" y2="1071.7" stroke-width="4.6"/>
<line x1="1166.3" y1="1067.8" x2="1166.3" y2="1071.7" stroke-width="4.6"/>
<line x1="1169.8" y1="1067.8" x2="1169.8" y2="1075.6" stroke-width="4.6"/>
<line x1="1192.6" y1="1067.8" x2="1192.6" y2="1071.7" stroke-width="4.6"/>
<line x1="1205.9" y1="1067.8" x2="1205.9" y2="1071.7" stroke-width="4.6"/>
<line x1="1215.3" y1="1067.8" x2="1215.3" y2="1071.7" stroke-width="4.6"/>
<line x1="1222.6" y1="1067.8" x2="1222.6" y2="1071.7" stroke-width="4.6"/>
<line x1="1228.6" y1="1067.8" x2="1228.6" y2="1071.7" stroke-width="4.6"/>
<line x1="1233.7" y1="1067.8" x2="1233.7" y2="1071.7" stroke-width="4.6"/>
<line x1="1238.1" y1="1067.8" x2="1238.1" y2="1071.7" stroke-width="4.6"/>
<line x1="1241.9" y1="1067.8" x2="1241.9" y2="1071.7" stroke-width="4.6"/>
<line x1="1245.4" y1="1067.8" x2="1245.4" y2="1075.6" stroke-width="4.6"/>
<line x1="787.2" y1="357.6" x2="791.8" y2="357.6" stroke-width="4.6"/>
<line x1="783.9" y1="328.0" x2="791.8" y2="328.0" stroke-width="4.6"/>
<line x1="787.2" y1="298.4" x2="791.8" y2="298.4" stroke-width="4.6"/>
<line x1="783.9" y1="268.8" x2="791.8" y2="268.8" stroke-width="4.6"/>
<line x1="787.2" y1="239.2" x2="791.8" y2="239.2" stroke-width="4.6"/>
<line x1="783.9" y1="209.6" x2="791.8" y2="209.6" stroke-width="4.6"/>
<line x1="787.2" y1="180.1" x2="791.8" y2="180.1" stroke-width="4.6"/>
<line x1="783.9" y1="150.5" x2="791.8" y2="150.5" stroke-width="4.6"/>
<line x1="787.2" y1="120.9" x2="791.8" y2="120.9" stroke-width="4.6"/>
<line x1="783.9" y1="91.3" x2="791.8" y2="91.3" stroke-width="4.6"/>
<line x1="787.2" y1="61.7" x2="791.8" y2="61.7" stroke-width="4.6"/>
<line x1="783.9" y1="32.1" x2="791.8" y2="32.1" stroke-width="4.6"/>
<line x1="787.2" y1="713.1" x2="791.8" y2="713.1" stroke-width="4.6"/>
<line x1="783.9" y1="683.5" x2="791.8" y2="683.5" stroke-width="4.6"/>
<line x1="787.2" y1="653.9" x2="791.8" y2="653.9" stroke-width="4.6"/>
<line x1="783.9" y1="624.3" x2="791.8" y2="624.3" stroke-width="4.6"/>
<line x1="787.2" y1="594.6" x2="791.8" y2="594.6" stroke-width="4.6"/>
<line x1="783.9" y1="565.0" x2="791.8" y2="565.0" stroke-width="4.6"/>
<line x1="787.2" y1="535.4" x2="791.8" y2="535.4" stroke-width="4.6"/>
<line x1="783.9" y1="505.8" x2="791.8" y2="505.8" stroke-width="4.6"/>
<line x1="787.2" y1="476.2" x2="791.8" y2="476.2" stroke-width="4.6"/>
<line x1="783.9" y1="446.5" x2="791.8" y2="446.5" stroke-width="4.6"/>
<line x1="787.2" y1="416.9" x2="791.8" y2="416.9" stroke-width="4.6"/>
<line x1="783.9" y1="387.3" x2="791.8" y2="387.3" stroke-width="4.6"/>
<line x1="787.2" y1="357.7" x2="791.8" y2="357.7" stroke-width="4.6"/>
<line x1="787.2" y1="1068.0" x2="791.8" y2="1068.0" stroke-width="4.6"/>
<line x1="783.9" y1="1038.4" x2="791.8" y2="1038.4" stroke-width="4.6"/>
<line x1="787.2" y1="1008.8" x2="791.8" y2="1008.8" stroke-width="4.6"/>
<line x1="783.9" y1="979.2" x2="791.8" y2="979.2" stroke-width="4.6"/>
<line x1="787.2" y1="949.7" x2="791.8" y2="949.7" stroke-width="4.6"/>
<line x1="783.9" y1="920.1" x2="791.8" y2="920.1" stroke-width="4.6"/>
<line x1="787.2" y1="890.5" x2="791.8" y2="890.5" stroke-width="4.6"/>
<line x1="783.9" y1="860.9" x2="791.8" y2="860.9" stroke-width="4.6"/>
<line x1="787.2" y1="831.3" x2="791.8" y2="831.3" stroke-width="4.6"/>
<line x1="783.9" y1="801.8" x2="791.8" y2="801.8" stroke-width="4.6"/>
<line x1="787.2" y1="772.2" x2="791.8" y2="772.2" stroke-width="4.6"/>
<line x1="783.9" y1="742.6" x2="791.8" y2="742.6" stroke-width="4.6"/>
<line x1="787.2" y1="713.0" x2="791.8" y2="713.0" stroke-width="4.6"/>
</g>
<g>
<polyline fill="none" stroke="#000" stroke-width="5.1" stroke-linejoin="round" points="195.9,32.4 197.8,32.4 199.7,32.4 201.6,32.5 203.5,32.5 205.3,32.5 207.2,32.5 209.1,32.5 211.0,32.6 212.9,32.6 214.8,32.6 216.7,32.7 218.6,32.7 220.5,32.7 222.4,32.8 224.2,32.8 226.1,32.8 228.0,32.9 229.9,32.9 231.8,33.0 233.7,33.0 235.6,33.1 237.5,33.1 239.4,33.2 241.3,33.3 243.2,33.3 245.0,33.4 246.9,33.5 248.8,33.6 250.7,33.7 252.6,33.8 254.5,33.9 256.4,34.0 258.3,34.1 260.2,34.2 262.1,34.3 263.9,34.4 265.8,34.6 267.7,34.7 269.6,34.9 271.5,35.0 273.4,35.2 275.3,35.4 277.2,35.6 279.1,35.8 280.9,36.0 282.8,36.3 284.7,36.5 286.6,36.8 288.5,37.0 290.4,37.3 292.3,37.6 294.2,37.9 296.1,38.3 298.0,38.7 299.9,39.0 301.7,39.4 303.6,39.9 305.5,40.3 307.4,40.8 309.3,41.3 311.2,41.8 313.1,42.4 315.0,43.0 316.9,43.6 318.8,44.3 320.6,45.0 322.5,45.8 324.4,46.6 326.3,47.4 328.2,48.3 330.1,49.2 332.0,50.2 333.9,51.2 335.8,52.3 337.6,53.5 339.5,54.7 341.4,56.0 343.3,57.3 345.2,58.8 347.1,60.3 349.0,61.8 350.9,63.5 352.8,65.3 354.7,67.1 356.5,69.0 358.4,71.1 360.3,73.2 362.2,75.5 364.1,77.8 366.0,80.3 367.9,82.9 369.8,85.6 371.7,88.5 373.6,91.5 375.4,94.6 377.3,97.8 379.2,101.2 381.1,104.8 383.0,108.5 384.9,112.3 386.8,116.3 388.7,120.5 390.6,124.8 392.5,129.3 394.4,133.9 396.2,138.7 398.1,143.6 400.0,148.7 401.9,154.0 403.8,159.4 405.7,164.9 407.6,170.6 409.5,176.3 411.4,182.2 413.2,188.2 415.1,194.3 417.0,200.4 418.9,206.6 420.8,212.9 422.7,219.1 424.6,225.4 426.5,231.6 428.4,237.8 430.3,244.0 432.1,250.0 434.0,255.9 435.9,261.7 437.8,267.3 439.7,272.8 441.6,278.0 443.5,283.0 445.4,287.8 447.3,292.3 449.2,296.5 451.0,300.4 452.9,304.0 454.8,307.3 456.7,310.3 458.6,313.1 460.5,315.5 462.4,317.6 464.3,319.5 466.2,321.1 468.1,322.5 469.9,323.6 471.8,324.6 473.7,325.4 475.6,326.0 477.5,326.5 479.4,326.9 481.3,327.2 483.2,327.5 485.1,327.6 487.0,327.8 488.9,327.8 490.7,327.9 492.6,327.9 494.5,328.0 496.4,328.0 498.3,328.0 500.2,328.0 502.1,328.0 504.0,328.0 505.9,328.0 507.8,328.0 509.6,328.0 511.5,328.0 513.4,328.0 515.3,328.0 517.2,328.0 519.1,328.0 521.0,328.0 522.9,328.0 524.8,328.0 526.6,328.0 528.5,328.0 530.4,328.0 532.3,328.0 534.2,328.0 536.1,328.0 538.0,328.0 539.9,328.0 541.8,328.0 543.7,328.0 545.5,328.0 547.4,328.0 549.3,328.0 551.2,328.0 553.1,328.0 555.0,328.0 556.9,328.0 558.8,328.0 560.7,328.0 562.6,328.0 564.4,328.0 566.3,328.0 568.2,328.0 570.1,328.0 572.0,328.0 573.9,328.0 575.8,328.0 577.7,328.0 579.6,328.0 581.5,328.0 583.4,328.0 585.2,328.0 587.1,328.0 589.0,328.0 590.9,328.0 592.8,328.0 594.7,328.0 596.6,328.0 598.5,328.0 600.4,328.0 602.2,328.0 604.1,328.0 606.0,328.0 607.9,328.0 609.8,328.0 611.7,328.0 613.6,328.0 615.5,328.0 617.4,328.0 619.3,328.0 621.1,328.0 623.0,328.0 624.9,328.0 626.8,328.0 628.7,328.0 630.6,328.0 632.5,328.0 634.4,328.0 636.3,328.0 638.2,328.0 640.0,328.0 641.9,328.0 643.8,328.0 645.7,328.0 647.6,328.0 649.5,328.0"/>
<polyline fill="none" stroke="#000" stroke-width="5.1" stroke-linejoin="round" points="195.9,412.4 197.8,412.6 199.7,412.8 201.6,413.0 203.5,413.2 205.3,413.4 207.2,413.6 209.1,413.8 211.0,414.0 212.9,414.3 214.8,414.6 216.7,414.8 218.6,415.2 220.5,415.5 222.4,415.8 224.2,416.2 226.1,416.5 228.0,416.9 229.9,417.4 231.8,417.8 233.7,418.3 235.6,418.8 237.5,419.3 239.4,419.9 241.3,420.5 243.2,421.1 245.0,421.8 246.9,422.5 248.8,423.2 250.7,424.0 252.6,424.8 254.5,425.7 256.4,426.6 258.3,427.5 260.2,428.6 262.1,429.6 263.9,430.8 265.8,432.0 267.7,433.2 269.6,434.6 271.5,436.0 273.4,437.4 275.3,439.0 277.2,440.6 279.1,442.3 280.9,444.1 282.8,446.0 284.7,448.0 286.6,450.1 288.5,452.3 290.4,454.6 292.3,457.1 294.2,459.6 296.1,462.3 298.0,465.0 299.9,467.9 301.7,471.0 303.6,474.2 305.5,477.5 307.4,480.9 309.3,484.5 311.2,488.2 313.1,492.1 315.0,496.1 316.9,500.3 318.8,504.6 320.6,509.1 322.5,513.7 324.4,518.5 326.3,523.3 328.2,528.4 330.1,533.5 332.0,538.8 333.9,544.2 335.8,549.7 337.6,555.3 339.5,560.9 341.4,566.7 343.3,572.4 345.2,578.3 347.1,584.1 349.0,589.9 350.9,595.8 352.8,601.5 354.7,607.3 356.5,612.9 358.4,618.4 360.3,623.8 362.2,629.0 364.1,634.1 366.0,639.0 367.9,643.7 369.8,648.1 371.7,652.3 373.6,656.2 375.4,659.8 377.3,663.2 379.2,666.3 381.1,669.1 383.0,671.7 384.9,673.9 386.8,675.9 388.7,677.7 390.6,679.2 392.5,680.5 394.4,681.5 396.2,682.4 398.1,683.2 400.0,683.8 401.9,684.2 403.8,684.6 405.7,684.9 407.6,685.1 409.5,685.3 411.4,685.4 413.2,685.4 415.1,685.5 417.0,685.5 418.9,685.6 420.8,685.6 422.7,685.6 424.6,685.6 426.5,685.6 428.4,685.6 430.3,685.6 432.1,685.6 434.0,685.6 435.9,685.6 437.8,685.6 439.7,685.6 441.6,685.6 443.5,685.6 445.4,685.6 447.3,685.6 449.2,685.6 451.0,685.6 452.9,685.6 454.8,685.6 456.7,685.6 458.6,685.6 460.5,685.6 462.4,685.6 464.3,685.6 466.2,685.6 468.1,685.6 469.9,685.6 471.8,685.6 473.7,685.6 475.6,685.6 477.5,685.6 479.4,685.6 481.3,685.6 483.2,685.6 485.1,685.6 487.0,685.6 488.9,685.6 490.7,685.6 492.6,685.6 494.5,685.6 496.4,685.6 498.3,685.6 500.2,685.6 502.1,685.6 504.0,685.6 505.9,685.6 507.8,685.6 509.6,685.6 511.5,685.6 513.4,685.6 515.3,685.6 517.2,685.6 519.1,685.6 521.0,685.6 522.9,685.6 524.8,685.6 526.6,685.6 528.5,685.6 530.4,685.6 532.3,685.6 534.2,685.6 536.1,685.6 538.0,685.6 539.9,685.6 541.8,685.6 543.7,685.6 545.5,685.6 547.4,685.6 549.3,685.6 551.2,685.6 553.1,685.6 555.0,685.6 556.9,685.6 558.8,685.6 560.7,685.6 562.6,685.6 564.4,685.6 566.3,685.6 568.2,685.6 570.1,685.6 572.0,685.6 573.9,685.6 575.8,685.6 577.7,685.6 579.6,685.6 581.5,685.6 583.4,685.6 585.2,685.6 587.1,685.6 589.0,685.6 590.9,685.6 592.8,685.6 594.7,685.6 596.6,685.6 598.5,685.6 600.4,685.6 602.2,685.6 604.1,685.6 606.0,685.6 607.9,685.6 609.8,685.6 611.7,685.6 613.6,685.6 615.5,685.6 617.4,685.6 619.3,685.6 621.1,685.6 623.0,685.6 624.9,685.6 626.8,685.6 628.7,685.6 630.6,685.6 632.5,685.6 634.4,685.6 636.3,685.6 638.2,685.6 640.0,685.6 641.9,685.6 643.8,685.6 645.7,685.6 647.6,685.6 649.5,685.6"/>
<polyline fill="none" stroke="#f00" stroke-width="5.1" stroke-linejoin="round" points="195.9,409.7 197.8,409.7 199.7,409.7 201.6,409.7 203.5,409.7 205.3,409.7 207.2,409.7 209.1,409.7 211.0,409.7 212.9,409.7 214.8,409.7 216.7,409.8 218.6,409.8 220.5,409.8 222.4,409.8 224.2,409.8 226.1,409.8 228.0,409.8 229.9,409.8 231.8,409.8 233.7,409.8 235.6,409.8 237.5,409.8 239.4,409.8 241.3,409.8 243.2,409.8 245.0,409.8 246.9,409.8 248.8,409.8 250.7,409.8 252.6,409.9 254.5,409.9 256.4,409.9 258.3,409.9 260.2,409.9 262.1,409.9 263.9,409.9 265.8,409.9 267.7,409.9 269.6,410.0 271.5,410.0 273.4,410.0 275.3,410.0 277.2,410.0 279.1,410.0 280.9,410.1 282.8,410.1 284.7,410.1 286.6,410.1 288.5,410.2 290.4,410.2 292.3,410.2 294.2,410.2 296.1,410.3 298.0,410.3 299.9,410.4 301.7,410.4 303.6,410.4 305.5,410.5 307.4,410.5 309.3,410.6 311.2,410.6 313.1,410.7 315.0,410.7 316.9,410.8 318.8,410.9 320.6,410.9 322.5,411.0 324.4,411.1 326.3,411.2 328.2,411.2 330.1,411.3 332.0,411.4 333.9,411.5 335.8,411.6 337.6,411.8 339.5,411.9 341.4,412.0 343.3,412.1 345.2,412.3 347.1,412.4 349.0,412.6 350.9,412.8 352.8,413.0 354.7,413.2 356.5,413.4 358.4,413.6 360.3,413.8 362.2,414.0 364.1,414.3 366.0,414.6 367.9,414.8 369.8,415.2 371.7,415.5 373.6,415.8 375.4,416.2 377.3,416.5 379.2,416.9 381.1,417.4 383.0,417.8 384.9,418.3 386.8,418.8 388.7,419.3 390.6,419.9 392.5,420.5 394.4,421.1 396.2,421.8 398.1,422.5 400.0,423.2 401.9,424.0 403.8,424.8 405.7,425.7 407.6,426.6 409.5,427.5 411.4,428.6 413.2,429.6 415.1,430.8 417.0,432.0 418.9,433.2 420.8,434.6 422.7,436.0 424.6,437.4 426.5,439.0 428.4,440.6 430.3,442.3 432.1,444.1 434.0,446.0 435.9,448.0 437.8,450.1 439.7,452.3 441.6,454.6 443.5,457.1 445.4,459.6 447.3,462.3 449.2,465.0 451.0,467.9 452.9,471.0 454.8,474.2 456.7,477.5 458.6,480.9 460.5,484.5 462.4,488.2 464.3,492.1 466.2,496.1 468.1,500.3 469.9,504.6 471.8,509.1 473.7,513.7 475.6,518.5 477.5,523.3 479.4,528.4 481.3,533.5 483.2,538.8 485.1,544.2 487.0,549.7 488.9,555.3 490.7,560.9 492.6,566.7 494.5,572.4 496.4,578.3 498.3,584.1 500.2,589.9 502.1,595.8 504.0,601.5 505.9,607.3 507.8,612.9 509.6,618.4 511.5,623.8 513.4,629.0 515.3,634.1 517.2,639.0 519.1,643.7 521.0,648.1 522.9,652.3 524.8,656.2 526.6,659.8 528.5,663.2 530.4,666.3 532.3,669.1 534.2,671.7 536.1,673.9 538.0,675.9 539.9,677.7 541.8,679.2 543.7,680.5 545.5,681.5 547.4,682.4 549.3,683.2 551.2,683.8 553.1,684.2 555.0,684.6 556.9,684.9 558.8,685.1 560.7,685.3 562.6,685.4 564.4,685.4 566.3,685.5 568.2,685.5 570.1,685.6 572.0,685.6 573.9,685.6 575.8,685.6 577.7,685.6 579.6,685.6 581.5,685.6 583.4,685.6 585.2,685.6 587.1,685.6 589.0,685.6 590.9,685.6 592.8,685.6 594.7,685.6 596.6,685.6 598.5,685.6 600.4,685.6 602.2,685.6 604.1,685.6 606.0,685.6 607.9,685.6 609.8,685.6 611.7,685.6 613.6,685.6 615.5,685.6 617.4,685.6 619.3,685.6 621.1,685.6 623.0,685.6 624.9,685.6 626.8,685.6 628.7,685.6 630.6,685.6 632.5,685.6 634.4,685.6 636.3,685.6 638.2,685.6 640.0,685.6 641.9,685.6 643.8,685.6 645.7,685.6 647.6,685.6 649.5,685.6"/>
<polyline fill="none" stroke="#000" stroke-width="5.1" stroke-linejoin="round" points="195.9,767.8 197.8,768.0 199.7,768.2 201.6,768.4 203.5,768.5 205.3,768.7 207.2,769.0 209.1,769.2 211.0,769.4 212.9,769.7 214.8,770.0 216.7,770.2 218.6,770.5 220.5,770.9 222.4,771.2 224.2,771.6 226.1,771.9 228.0,772.3 229.9,772.8 231.8,773.2 233.7,773.7 235.6,774.2 237.5,774.7 239.4,775.3 241.3,775.9 243.2,776.5 245.0,777.1 246.9,777.8 248.8,778.6 250.7,779.3 252.6,780.2 254.5,781.0 256.4,781.9 258.3,782.9 260.2,783.9 262.1,785.0 263.9,786.1 265.8,787.3 267.7,788.6 269.6,789.9 271.5,791.3 273.4,792.8 275.3,794.3 277.2,796.0 279.1,797.7 280.9,799.5 282.8,801.4 284.7,803.4 286.6,805.5 288.5,807.7 290.4,810.0 292.3,812.4 294.2,814.9 296.1,817.6 298.0,820.4 299.9,823.3 301.7,826.3 303.6,829.5 305.5,832.8 307.4,836.2 309.3,839.8 311.2,843.5 313.1,847.4 315.0,851.4 316.9,855.6 318.8,859.9 320.6,864.3 322.5,869.0 324.4,873.7 326.3,878.6 328.2,883.6 330.1,888.7 332.0,894.0 333.9,899.4 335.8,904.9 337.6,910.4 339.5,916.1 341.4,921.8 343.3,927.6 345.2,933.4 347.1,939.2 349.0,945.1 350.9,950.9 352.8,956.7 354.7,962.4 356.5,968.0 358.4,973.5 360.3,978.9 362.2,984.1 364.1,989.2 366.0,994.1 367.9,998.7 369.8,1003.1 371.7,1007.3 373.6,1011.2 375.4,1014.9 377.3,1018.3 379.2,1021.3 381.1,1024.2 383.0,1026.7 384.9,1028.9 386.8,1030.9 388.7,1032.7 390.6,1034.2 392.5,1035.5 394.4,1036.5 396.2,1037.4 398.1,1038.2 400.0,1038.8 401.9,1039.2 403.8,1039.6 405.7,1039.9 407.6,1040.1 409.5,1040.3 411.4,1040.4 413.2,1040.4 415.1,1040.5 417.0,1040.5 418.9,1040.6 420.8,1040.6 422.7,1040.6 424.6,1040.6 426.5,1040.6 428.4,1040.6 430.3,1040.6 432.1,1040.6 434.0,1040.6 435.9,1040.6 437.8,1040.6 439.7,1040.6 441.6,1040.6 443.5,1040.6 445.4,1040.6 447.3,1040.6 449.2,1040.6 451.0,1040.6 452.9,1040.6 454.8,1040.6 456.7,1040.6 458.6,1040.6 460.5,1040.6 462.4,1040.6 464.3,1040.6 466.2,1040.6 468.1,1040.6 469.9,1040.6 471.8,1040.6 473.7,1040.6 475.6,1040.6 477.5,1040.6 479.4,1040.6 481.3,1040.6 483.2,1040.6 485.1,1040.6 487.0,1040.6 488.9,1040.6 490.7,1040.6 492.6,1040.6 494.5,1040.6 496.4,1040.6 498.3,1040.6 500.2,1040.6 502.1,1040.6 504.0,1040.6 505.9,1040.6 507.8,1040.6 509.6,1040.6 511.5,1040.6 513.4,1040.6 515.3,1040.6 517.2,1040.6 519.1,1040.6 521.0,1040.6 522.9,1040.6 524.8,1040.6 526.6,1040.6 528.5,1040.6 530.4,1040.6 532.3,1040.6 534.2,1040.6 536.1,1040.6 538.0,1040.6 539.9,1040.6 541.8,1040.6 543.7,1040.6 545.5,1040.6 547.4,1040.6 549.3,1040.6 551.2,1040.6 553.1,1040.6 555.0,1040.6 556.9,1040.6 558.8,1040.6 560.7,1040.6 562.6,1040.6 564.4,1040.6 566.3,1040.6 568.2,1040.6 570.1,1040.6 572.0,1040.6 573.9,1040.6 575.8,1040.6 577.7,1040.6 579.6,1040.6 581.5,1040.6 583.4,1040.6 585.2,1040.6 587.1,1040.6 589.0,1040.6 590.9,1040.6 592.8,1040.6 594.7,1040.6 596.6,1040.6 598.5,1040.6 600.4,1040.6 602.2,1040.6 604.1,1040.6 606.0,1040.6 607.9,1040.6 609.8,1040.6 611.7,1040.6 613.6,1040.6 615.5,1040.6 617.4,1040.6 619.3,1040.6 621.1,1040.6 623.0,1040.6 624.9,1040.6 626.8,1040.6 628.7,1040.6 630.6,1040.6 632.5,1040.6 634.4,1040.6 636.3,1040.6 638.2,1040.6 640.0,1040.6 641.9,1040.6 643.8,1040.6 645.7,1040.6 647.6,1040.6 649.5,1040.6"/>
<polyline fill="none" stroke="#f00" stroke-width="5.1" stroke-linejoin="round" points="195.9,765.4 197.8,765.4 199.7,765.4 201.6,765.4 203.5,765.4 205.3,765.5 207.2,765.5 209.1,765.5 211.0,765.5 212.9,765.6 214.8,765.6 216.7,765.6 218.6,765.6 220.5,765.7 222.4,765.7 224.2,765.8 226.1,765.8 228.0,765.8 229.9,765.9 231.8,765.9 233.7,766.0 235.6,766.0 237.5,766.1 239.4,766.1 241.3,766.2 243.2,766.3 245.0,766.3 246.9,766.4 248.8,766.5 250.7,766.6 252.6,766.6 254.5,766.7 256.4,766.8 258.3,766.9 260.2,767.0 262.1,767.2 263.9,767.3 265.8,767.4 267.7,767.5 269.6,767.7 271.5,767.8 273.4,768.0 275.3,768.2 277.2,768.4 279.1,768.5 280.9,768.7 282.8,769.0 284.7,769.2 286.6,769.4 288.5,769.7 290.4,770.0 292.3,770.2 294.2,770.5 296.1,770.9 298.0,771.2 299.9,771.6 301.7,771.9 303.6,772.3 305.5,772.8 307.4,773.2 309.3,773.7 311.2,774.2 313.1,774.7 315.0,775.3 316.9,775.9 318.8,776.5 320.6,777.1 322.5,777.8 324.4,778.6 326.3,779.3 328.2,780.2 330.1,781.0 332.0,781.9 333.9,782.9 335.8,783.9 337.6,785.0 339.5,786.1 341.4,787.3 343.3,788.6 345.2,789.9 347.1,791.3 349.0,792.8 350.9,794.3 352.8,796.0 354.7,797.7 356.5,799.5 358.4,801.4 360.3,803.4 362.2,805.5 364.1,807.7 366.0,810.0 367.9,812.4 369.8,814.9 371.7,817.6 373.6,820.4 375.4,823.3 377.3,826.3 379.2,829.5 381.1,832.8 383.0,836.2 384.9,839.8 386.8,843.5 388.7,847.4 390.6,851.4 392.5,855.6 394.4,859.9 396.2,864.3 398.1,869.0 400.0,873.7 401.9,878.6 403.8,883.6 405.7,888.7 407.6,894.0 409.5,899.4 411.4,904.9 413.2,910.4 415.1,916.1 417.0,921.8 418.9,927.6 420.8,933.4 422.7,939.2 424.6,945.1 426.5,950.9 428.4,956.7 430.3,962.4 432.1,968.0 434.0,973.5 435.9,978.9 437.8,984.1 439.7,989.2 441.6,994.1 443.5,998.7 445.4,1003.1 447.3,1007.3 449.2,1011.2 451.0,1014.9 452.9,1018.3 454.8,1021.3 456.7,1024.2 458.6,1026.7 460.5,1028.9 462.4,1030.9 464.3,1032.7 466.2,1034.2 468.1,1035.5 469.9,1036.5 471.8,1037.4 473.7,1038.2 475.6,1038.8 477.5,1039.2 479.4,1039.6 481.3,1039.9 483.2,1040.1 485.1,1040.3 487.0,1040.4 488.9,1040.4 490.7,1040.5 492.6,1040.5 494.5,1040.6 496.4,1040.6 498.3,1040.6 500.2,1040.6 502.1,1040.6 504.0,1040.6 505.9,1040.6 507.8,1040.6 509.6,1040.6 511.5,1040.6 513.4,1040.6 515.3,1040.6 517.2,1040.6 519.1,1040.6 521.0,1040.6 522.9,1040.6 524.8,1040.6 526.6,1040.6 528.5,1040.6 530.4,1040.6 532.3,1040.6 534.2,1040.6 536.1,1040.6 538.0,1040.6 539.9,1040.6 541.8,1040.6 543.7,1040.6 545.5,1040.6 547.4,1040.6 549.3,1040.6 551.2,1040.6 553.1,1040.6 555.0,1040.6 556.9,1040.6 558.8,1040.6 560.7,1040.6 562.6,1040.6 564.4,1040.6 566.3,1040.6 568.2,1040.6 570.1,1040.6 572.0,1040.6 573.9,1040.6 575.8,1040.6 577.7,1040.6 579.6,1040.6 581.5,1040.6 583.4,1040.6 585.2,1040.6 587.1,1040.6 589.0,1040.6 590.9,1040.6 592.8,1040.6 594.7,1040.6 596.6,1040.6 598.5,1040.6 600.4,1040.6 602.2,1040.6 604.1,1040.6 606.0,1040.6 607.9,1040.6 609.8,1040.6 611.7,1040.6 613.6,1040.6 615.5,1040.6 617.4,1040.6 619.3,1040.6 621.1,1040.6 623.0,1040.6 624.9,1040.6 626.8,1040.6 628.7,1040.6 630.6,1040.6 632.5,1040.6 634.4,1040.6 636.3,1040.6 638.2,1040.6 640.0,1040.6 641.9,1040.6 643.8,1040.6 645.7,1040.6 647.6,1040.6 649.5,1040.6"/>
<polyline fill="none" stroke="#0f0" stroke-width="5.1" stroke-linejoin="round" points="195.9,765.1 197.8,765.1 199.7,765.1 201.6,765.1 203.5,765.1 205.3,765.1 207.2,765.1 209.1,765.1 211.0,765.1 212.9,765.1 214.8,765.1 216.7,765.2 218.6,765.2 220.5,765.2 222.4,765.2 224.2,765.2 226.1,765.2 228.0,765.2 229.9,765.2 231.8,765.2 233.7,765.2 235.6,765.2 237.5,765.2 239.4,765.2 241.3,765.2 243.2,765.2 245.0,765.2 246.9,765.2 248.8,765.2 250.7,765.2 252.6,765.3 254.5,765.3 256.4,765.3 258.3,765.3 260.2,765.3 262.1,765.3 263.9,765.3 265.8,765.3 267.7,765.3 269.6,765.4 271.5,765.4 273.4,765.4 275.3,765.4 277.2,765.4 279.1,765.4 280.9,765.5 282.8,765.5 284.7,765.5 286.6,765.5 288.5,765.6 290.4,765.6 292.3,765.6 294.2,765.6 296.1,765.7 298.0,765.7 299.9,765.8 301.7,765.8 303.6,765.8 305.5,765.9 307.4,765.9 309.3,766.0 311.2,766.0 313.1,766.1 315.0,766.1 316.9,766.2 318.8,766.3 320.6,766.3 322.5,766.4 324.4,766.5 326.3,766.6 328.2,766.6 330.1,766.7 332.0,766.8 333.9,766.9 335.8,767.0 337.6,767.2 339.5,767.3 341.4,767.4 343.3,767.5 345.2,767.7 347.1,767.8 349.0,768.0 350.9,768.2 352.8,768.4 354.7,768.5 356.5,768.7 358.4,769.0 360.3,769.2 362.2,769.4 364.1,769.7 366.0,770.0 367.9,770.2 369.8,770.5 371.7,770.9 373.6,771.2 375.4,771.6 377.3,771.9 379.2,772.3 381.1,772.8 383.0,773.2 384.9,773.7 386.8,774.2 388.7,774.7 390.6,775.3 392.5,775.9 394.4,776.5 396.2,777.1 398.1,777.8 400.0,778.6 401.9,779.3 403.8,780.2 405.7,781.0 407.6,781.9 409.5,782.9 411.4,783.9 413.2,785.0 415.1,786.1 417.0,787.3 418.9,788.6 420.8,789.9 422.7,791.3 424.6,792.8 426.5,794.3 428.4,796.0 430.3,797.7 432.1,799.5 434.0,801.4 435.9,803.4 437.8,805.5 439.7,807.7 441.6,810.0 443.5,812.4 445.4,814.9 447.3,817.6 449.2,820.4 451.0,823.3 452.9,826.3 454.8,829.5 456.7,832.8 458.6,836.2 460.5,839.8 462.4,843.5 464.3,847.4 466.2,851.4 468.1,855.6 469.9,859.9 471.8,864.3 473.7,869.0 475.6,873.7 477.5,878.6 479.4,883.6 481.3,888.7 483.2,894.0 485.1,899.4 487.0,904.9 488.9,910.4 490.7,916.1 492.6,921.8 494.5,927.6 496.4,933.4 498.3,939.2 500.2,945.1 502.1,950.9 504.0,956.7 505.9,962.4 507.8,968.0 509.6,973.5 511.5,978.9 513.4,984.1 515.3,989.2 517.2,994.1 519.1,998.7 521.0,1003.1 522.9,1007.3 524.8,1011.2 526.6,1014.9 528.5,1018.3 530.4,1021.3 532.3,1024.2 534.2,1026.7 536.1,1028.9 538.0,1030.9 539.9,1032.7 541.8,1034.2 543.7,1035.5 545.5,1036.5 547.4,1037.4 549.3,1038.2 551.2,1038.8 553.1,1039.2 555.0,1039.6 556.9,1039.9 558.8,1040.1 560.7,1040.3 562.6,1040.4 564.4,1040.4 566.3,1040.5 568.2,1040.5 570.1,1040.6 572.0,1040.6 573.9,1040.6 575.8,1040.6 577.7,1040.6 579.6,1040.6 581.5,1040.6 583.4,1040.6 585.2,1040.6 587.1,1040.6 589.0,1040.6 590.9,1040.6 592.8,1040.6 594.7,1040.6 596.6,1040.6 598.5,1040.6 600.4,1040.6 602.2,1040.6 604.1,1040.6 606.0,1040.6 607.9,1040.6 609.8,1040.6 611.7,1040.6 613.6,1040.6 615.5,1040.6 617.4,1040.6 619.3,1040.6 621.1,1040.6 623.0,1040.6 624.9,1040.6 626.8,1040.6 628.7,1040.6 630.6,1040.6 632.5,1040.6 634.4,1040.6 636.3,1040.6 638.2,1040.6 640.0,1040.6 641.9,1040.6 643.8,1040.6 645.7,1040.6 647.6,1040.6 649.5,1040.6"/>
<polyline fill="none" stroke="#000" stroke-width="5.1" stroke-linejoin="round" points="791.8,32.4 793.7,32.4 795.6,32.4 797.5,32.5 799.4,32.5 801.2,32.5 803.1,32.5 805.0,32.5 806.9,32.6 808.8,32.6 810.7,32.6 812.6,32.7 814.5,32.7 816.4,32.7 818.3,32.8 820.1,32.8 822.0,32.8 823.9,32.9 825.8,32.9 827.7,33.0 829.6,33.0 831.5,33.1 833.4,33.1 835.3,33.2 837.2,33.3 839.0,33.3 840.9,33.4 842.8,33.5 844.7,33.6 846.6,33.7 848.5,33.8 850.4,33.9 852.3,34.0 854.2,34.1 856.1,34.2 857.9,34.3 859.8,34.4 861.7,34.6 863.6,34.7 865.5,34.9 867.4,35.0 869.3,35.2 871.2,35.4 873.1,35.6 875.0,35.8 876.8,36.0 878.7,36.3 880.6,36.5 882.5,36.8 884.4,37.0 886.3,37.3 888.2,37.6 890.1,37.9 892.0,38.3 893.9,38.7 895.8,39.0 897.6,39.4 899.5,39.9 901.4,40.3 903.3,40.8 905.2,41.3 907.1,41.8 909.0,42.4 910.9,43.0 912.8,43.6 914.6,44.3 916.5,45.0 918.4,45.8 920.3,46.6 922.2,47.4 924.1,48.3 926.0,49.2 927.9,50.2 929.8,51.2 931.7,52.3 933.5,53.5 935.4,54.7 937.3,56.0 939.2,57.3 941.1,58.8 943.0,60.3 944.9,61.8 946.8,63.5 948.7,65.3 950.6,67.1 952.4,69.0 954.3,71.1 956.2,73.2 958.1,75.5 960.0,77.8 961.9,80.3 963.8,82.9 965.7,85.6 967.6,88.5 969.5,91.5 971.3,94.6 973.2,97.8 975.1,101.2 977.0,104.8 978.9,108.5 980.8,112.3 982.7,116.3 984.6,120.5 986.5,124.8 988.4,129.3 990.2,133.9 992.1,138.7 994.0,143.6 995.9,148.7 997.8,154.0 999.7,159.4 1001.6,164.9 1003.5,170.6 1005.4,176.3 1007.3,182.2 1009.1,188.2 1011.0,194.3 1012.9,200.4 1014.8,206.6 1016.7,212.9 1018.6,219.1 1020.5,225.4 1022.4,231.6 1024.3,237.8 1026.2,244.0 1028.0,250.0 1029.9,255.9 1031.8,261.7 1033.7,267.3 1035.6,272.8 1037.5,278.0 1039.4,283.0 1041.3,287.8 1043.2,292.3 1045.1,296.5 1046.9,300.4 1048.8,304.0 1050.7,307.3 1052.6,310.3 1054.5,313.1 1056.4,315.5 1058.3,317.6 1060.2,319.5 1062.1,321.1 1064.0,322.5 1065.8,323.6 1067.7,324.6 1069.6,325.4 1071.5,326.0 1073.4,326.5 1075.3,326.9 1077.2,327.2 1079.1,327.5 1081.0,327.6 1082.9,327.8 1084.8,327.8 1086.6,327.9 1088.5,327.9 1090.4,328.0 1092.3,328.0 1094.2,328.0 1096.1,328.0 1098.0,328.0 1099.9,328.0 1101.8,328.0 1103.6,328.0 1105.5,328.0 1107.4,328.0 1109.3,328.0 1111.2,328.0 1113.1,328.0 1115.0,328.0 1116.9,328.0 1118.8,328.0 1120.7,328.0 1122.5,328.0 1124.4,328.0 1126.3,328.0 1128.2,328.0 1130.1,328.0 1132.0,328.0 1133.9,328.0 1135.8,328.0 1137.7,328.0 1139.6,328.0 1141.4,328.0 1143.3,328.0 1145.2,328.0 1147.1,328.0 1149.0,328.0 1150.9,328.0 1152.8,328.0 1154.7,328.0 1156.6,328.0 1158.5,328.0 1160.3,328.0 1162.2,328.0 1164.1,328.0 1166.0,328.0 1167.9,328.0 1169.8,328.0 1171.7,328.0 1173.6,328.0 1175.5,328.0 1177.4,328.0 1179.2,328.0 1181.1,328.0 1183.0,328.0 1184.9,328.0 1186.8,328.0 1188.7,328.0 1190.6,328.0 1192.5,328.0 1194.4,328.0 1196.3,328.0 1198.1,328.0 1200.0,328.0 1201.9,328.0 1203.8,328.0 1205.7,328.0 1207.6,328.0 1209.5,328.0 1211.4,328.0 1213.3,328.0 1215.2,328.0 1217.0,328.0 1218.9,328.0 1220.8,328.0 1222.7,328.0 1224.6,328.0 1226.5,328.0 1228.4,328.0 1230.3,328.0 1232.2,328.0 1234.1,328.0 1235.9,328.0 1237.8,328.0 1239.7,328.0 1241.6,328.0 1243.5,328.0 1245.4,328.0"/>
<polyline fill="none" stroke="#000" stroke-width="5.1" stroke-linejoin="round" points="791.8,388.8 793.7,388.9 795.6,389.0 797.5,389.1 799.4,389.2 801.2,389.3 803.1,389.4 805.0,389.5 806.9,389.7 808.8,389.8 810.7,389.9 812.6,390.1 814.5,390.3 816.4,390.4 818.3,390.6 820.1,390.8 822.0,391.0 823.9,391.2 825.8,391.5 827.7,391.7 829.6,392.0 831.5,392.2 833.4,392.5 835.3,392.8 837.2,393.1 839.0,393.5 840.9,393.8 842.8,394.2 844.7,394.6 846.6,395.0 848.5,395.5 850.4,396.0 852.3,396.4 854.2,397.0 856.1,397.5 857.9,398.1 859.8,398.7 861.7,399.4 863.6,400.1 865.5,400.8 867.4,401.5 869.3,402.3 871.2,403.2 873.1,404.1 875.0,405.0 876.8,406.0 878.7,407.0 880.6,408.1 882.5,409.2 884.4,410.4 886.3,411.7 888.2,413.0 890.1,414.4 892.0,415.8 893.9,417.3 895.8,418.9 897.6,420.6 899.5,422.3 901.4,424.1 903.3,426.0 905.2,427.9 907.1,430.0 909.0,432.1 910.9,434.3 912.8,436.5 914.6,438.9 916.5,441.3 918.4,443.8 920.3,446.4 922.2,449.1 924.1,451.8 926.0,454.6 927.9,457.5 929.8,460.5 931.7,463.5 933.5,466.5 935.4,469.6 937.3,472.8 939.2,476.0 941.1,479.2 943.0,482.4 944.9,485.6 946.8,488.8 948.7,492.0 950.6,495.2 952.4,498.3 954.3,501.4 956.2,504.4 958.1,507.4 960.0,510.2 961.9,513.0 963.8,515.6 965.7,518.2 967.6,520.6 969.5,522.9 971.3,525.0 973.2,527.1 975.1,528.9 977.0,530.7 978.9,532.3 980.8,533.7 982.7,535.1 984.6,536.3 986.5,537.4 988.4,538.4 990.2,539.3 992.1,540.2 994.0,540.9 995.9,541.7 997.8,542.3 999.7,543.0 1001.6,543.6 1003.5,544.2 1005.4,544.8 1007.3,545.4 1009.1,546.0 1011.0,546.7 1012.9,547.3 1014.8,548.0 1016.7,548.7 1018.6,549.5 1020.5,550.3 1022.4,551.1 1024.3,552.0 1026.2,552.9 1028.0,553.9 1029.9,554.9 1031.8,556.0 1033.7,557.1 1035.6,558.3 1037.5,559.5 1039.4,560.8 1041.3,562.2 1043.2,563.6 1045.1,565.1 1046.9,566.7 1048.8,568.3 1050.7,570.0 1052.6,571.8 1054.5,573.6 1056.4,575.6 1058.3,577.6 1060.2,579.6 1062.1,581.8 1064.0,584.0 1065.8,586.4 1067.7,588.8 1069.6,591.2 1071.5,593.8 1073.4,596.4 1075.3,599.1 1077.2,601.9 1079.1,604.7 1081.0,607.6 1082.9,610.5 1084.8,613.5 1086.6,616.6 1088.5,619.7 1090.4,622.8 1092.3,625.9 1094.2,629.0 1096.1,632.2 1098.0,635.3 1099.9,638.4 1101.8,641.4 1103.6,644.5 1105.5,647.4 1107.4,650.3 1109.3,653.1 1111.2,655.9 1113.1,658.5 1115.0,661.0 1116.9,663.4 1118.8,665.6 1120.7,667.7 1122.5,669.7 1124.4,671.5 1126.3,673.1 1128.2,674.7 1130.1,676.0 1132.0,677.2 1133.9,678.3 1135.8,679.2 1137.7,680.0 1139.6,680.7 1141.4,681.3 1143.3,681.8 1145.2,682.2 1147.1,682.5 1149.0,682.8 1150.9,683.0 1152.8,683.1 1154.7,683.2 1156.6,683.3 1158.5,683.4 1160.3,683.4 1162.2,683.4 1164.1,683.5 1166.0,683.5 1167.9,683.5 1169.8,683.5 1171.7,683.5 1173.6,683.5 1175.5,683.5 1177.4,683.5 1179.2,683.5 1181.1,683.5 1183.0,683.5 1184.9,683.5 1186.8,683.5 1188.7,683.5 1190.6,683.5 1192.5,683.5 1194.4,683.5 1196.3,683.5 1198.1,683.5 1200.0,683.5 1201.9,683.5 1203.8,683.5 1205.7,683.5 1207.6,683.5 1209.5,683.5 1211.4,683.5 1213.3,683.5 1215.2,683.5 1217.0,683.5 1218.9,683.5 1220.8,683.5 1222.7,683.5 1224.6,683.5 1226.5,683.5 1228.4,683.5 1230.3,683.5 1232.2,683.5 1234.1,683.5 1235.9,683.5 1237.8,683.5 1239.7,683.5 1241.6,683.5 1243.5,683.5 1245.4,683.5"/>
<polyline fill="none" stroke="#000" stroke-width="5.1" stroke-linejoin="round" points="791.8,743.7 793.7,743.8 795.6,743.8 797.5,743.9 799.4,744.0 801.2,744.1 803.1,744.1 805.0,744.2 806.9,744.3 808.8,744.4 810.7,744.5 812.6,744.6 814.5,744.8 816.4,744.9 818.3,745.0 820.1,745.2 822.0,745.3 823.9,745.5 825.8,745.6 827.7,745.8 829.6,746.0 831.5,746.2 833.4,746.4 835.3,746.6 837.2,746.9 839.0,747.1 840.9,747.4 842.8,747.7 844.7,748.0 846.6,748.3 848.5,748.6 850.4,748.9 852.3,749.3 854.2,749.7 856.1,750.1 857.9,750.5 859.8,751.0 861.7,751.5 863.6,752.0 865.5,752.5 867.4,753.1 869.3,753.7 871.2,754.3 873.1,754.9 875.0,755.6 876.8,756.3 878.7,757.1 880.6,757.9 882.5,758.8 884.4,759.6 886.3,760.6 888.2,761.6 890.1,762.6 892.0,763.7 893.9,764.8 895.8,766.0 897.6,767.2 899.5,768.5 901.4,769.8 903.3,771.2 905.2,772.7 907.1,774.2 909.0,775.8 910.9,777.5 912.8,779.2 914.6,781.0 916.5,782.9 918.4,784.8 920.3,786.8 922.2,788.8 924.1,791.0 926.0,793.1 927.9,795.4 929.8,797.7 931.7,800.1 933.5,802.5 935.4,805.0 937.3,807.5 939.2,810.0 941.1,812.6 943.0,815.3 944.9,818.0 946.8,820.7 948.7,823.4 950.6,826.1 952.4,828.8 954.3,831.6 956.2,834.3 958.1,837.0 960.0,839.7 961.9,842.3 963.8,845.0 965.7,847.6 967.6,850.1 969.5,852.7 971.3,855.1 973.2,857.5 975.1,859.9 977.0,862.3 978.9,864.6 980.8,866.8 982.7,869.1 984.6,871.3 986.5,873.4 988.4,875.6 990.2,877.7 992.1,879.9 994.0,882.1 995.9,884.2 997.8,886.4 999.7,888.6 1001.6,890.9 1003.5,893.2 1005.4,895.5 1007.3,897.9 1009.1,900.3 1011.0,902.7 1012.9,905.2 1014.8,907.8 1016.7,910.3 1018.6,912.9 1020.5,915.5 1022.4,918.2 1024.3,920.8 1026.2,923.5 1028.0,926.1 1029.9,928.8 1031.8,931.4 1033.7,934.0 1035.6,936.6 1037.5,939.2 1039.4,941.7 1041.3,944.2 1043.2,946.7 1045.1,949.1 1046.9,951.4 1048.8,953.7 1050.7,955.9 1052.6,958.1 1054.5,960.3 1056.4,962.4 1058.3,964.4 1060.2,966.4 1062.1,968.4 1064.0,970.3 1065.8,972.3 1067.7,974.2 1069.6,976.1 1071.5,978.0 1073.4,979.9 1075.3,981.9 1077.2,983.8 1079.1,985.8 1081.0,987.7 1082.9,989.7 1084.8,991.8 1086.6,993.8 1088.5,995.9 1090.4,997.9 1092.3,1000.0 1094.2,1002.1 1096.1,1004.2 1098.0,1006.3 1099.9,1008.4 1101.8,1010.4 1103.6,1012.4 1105.5,1014.4 1107.4,1016.3 1109.3,1018.2 1111.2,1020.0 1113.1,1021.7 1115.0,1023.4 1116.9,1025.0 1118.8,1026.5 1120.7,1027.9 1122.5,1029.2 1124.4,1030.4 1126.3,1031.5 1128.2,1032.5 1130.1,1033.4 1132.0,1034.2 1133.9,1034.9 1135.8,1035.6 1137.7,1036.1 1139.6,1036.6 1141.4,1036.9 1143.3,1037.3 1145.2,1037.5 1147.1,1037.7 1149.0,1037.9 1150.9,1038.0 1152.8,1038.1 1154.7,1038.2 1156.6,1038.3 1158.5,1038.3 1160.3,1038.3 1162.2,1038.4 1164.1,1038.4 1166.0,1038.4 1167.9,1038.4 1169.8,1038.4 1171.7,1038.4 1173.6,1038.4 1175.5,1038.4 1177.4,1038.4 1179.2,1038.4 1181.1,1038.4 1183.0,1038.4 1184.9,1038.4 1186.8,1038.4 1188.7,1038.4 1190.6,1038.4 1192.5,1038.4 1194.4,1038.4 1196.3,1038.4 1198.1,1038.4 1200.0,1038.4 1201.9,1038.4 1203.8,1038.4 1205.7,1038.4 1207.6,1038.4 1209.5,1038.4 1211.4,1038.4 1213.3,1038.4 1215.2,1038.4 1217.0,1038.4 1218.9,1038.4 1220.8,1038.4 1222.7,1038.4 1224.6,1038.4 1226.5,1038.4 1228.4,1038.4 1230.3,1038.4 1232.2,1038.4 1234.1,1038.4 1235.9,1038.4 1237.8,1038.4 1239.7,1038.4 1241.6,1038.4 1243.5,1038.4 1245.4,1038.4"/>
</g>
<g font-family="'Liberation Serif', 'Times New Roman', serif" fill="#000">
<text transform="translate(182.6,339.0) scale(1,1.03)" font-size="40" text-anchor="end">0.0</text>
<text transform="translate(182.6,279.8) scale(1,1.03)" font-size="40" text-anchor="end">0.2</text>
<text transform="translate(182.6,220.6) scale(1,1.03)" font-size="40" text-anchor="end">0.4</text>
<text transform="translate(182.6,161.5) scale(1,1.03)" font-size="40" text-anchor="end">0.6</text>
<text transform="translate(182.6,102.3) scale(1,1.03)" font-size="40" text-anchor="end">0.8</text>
<text transform="translate(182.6,43.1) scale(1,1.03)" font-size="40" text-anchor="end">1.0</text>
<text transform="translate(182.6,696.6) scale(1,1.03)" font-size="40" text-anchor="end">0.0</text>
<text transform="translate(182.6,641.4) scale(1,1.03)" font-size="40" text-anchor="end">0.2</text>
<text transform="translate(182.6,586.2) scale(1,1.03)" font-size="40" text-anchor="end">0.4</text>
<text transform="translate(182.6,531.1) scale(1,1.03)" font-size="40" text-anchor="end">0.6</text>
<text transform="translate(182.6,475.9) scale(1,1.03)" font-size="40" text-anchor="end">0.8</text>
<text transform="translate(182.6,420.7) scale(1,1.03)" font-size="40" text-anchor="end">1.0</text>
<text transform="translate(182.6,1051.6) scale(1,1.03)" font-size="40" text-anchor="end">0.0</text>
<text transform="translate(182.6,996.5) scale(1,1.03)" font-size="40" text-anchor="end">0.2</text>
<text transform="translate(182.6,941.4) scale(1,1.03)" font-size="40" text-anchor="end">0.4</text>
<text transform="translate(182.6,886.3) scale(1,1.03)" font-size="40" text-anchor="end">0.6</text>
<text transform="translate(182.6,831.2) scale(1,1.03)" font-size="40" text-anchor="end">0.8</text>
<text transform="translate(182.6,776.1) scale(1,1.03)" font-size="40" text-anchor="end">1.0</text>
<text transform="translate(195.9,1120.0) scale(1,1.03)" font-size="40" text-anchor="middle">10<tspan font-size="24" dy="-22.8">-6</tspan></text>
<text transform="translate(271.5,1120.0) scale(1,1.03)" font-size="40" text-anchor="middle">10<tspan font-size="24" dy="-22.8">-5</tspan></text>
<text transform="translate(347.1,1120.0) scale(1,1.03)" font-size="40" text-anchor="middle">10<tspan font-size="24" dy="-22.8">-4</tspan></text>
<text transform="translate(422.7,1120.0) scale(1,1.03)" font-size="40" text-anchor="middle">10<tspan font-size="24" dy="-22.8">-3</tspan></text>
<text transform="translate(498.3,1120.0) scale(1,1.03)" font-size="40" text-anchor="middle">10<tspan font-size="24" dy="-22.8">-2</tspan></text>
<text transform="translate(573.9,1120.0) scale(1,1.03)" font-size="40" text-anchor="middle">10<tspan font-size="24" dy="-22.8">-1</tspan></text>
<text transform="translate(649.5,1120.0) scale(1,1.03)" font-size="40" text-anchor="middle">10<tspan font-size="24" dy="-22.8">0</tspan></text>
<text transform="translate(778.5,339.0) scale(1,1.03)" font-size="40" text-anchor="end">0.0</text>
<text transform="translate(778.5,279.8) scale(1,1.03)" font-size="40" text-anchor="end">0.2</text>
<text transform="translate(778.5,220.6) scale(1,1.03)" font-size="40" text-anchor="end">0.4</text>
<text transform="translate(778.5,161.5) scale(1,1.03)" font-size="40" text-anchor="end">0.6</text>
<text transform="translate(778.5,102.3) scale(1,1.03)" font-size="40" text-anchor="end">0.8</text>
<text transform="translate(778.5,43.1) scale(1,1.03)" font-size="40" text-anchor="end">1.0</text>
<text transform="translate(778.5,694.5) scale(1,1.03)" font-size="40" text-anchor="end">0.0</text>
<text transform="translate(778.5,635.3) scale(1,1.03)" font-size="40" text-anchor="end">0.2</text>
<text transform="translate(778.5,576.0) scale(1,1.03)" font-size="40" text-anchor="end">0.4</text>
<text transform="translate(778.5,516.8) scale(1,1.03)" font-size="40" text-anchor="end">0.6</text>
<text transform="translate(778.5,457.5) scale(1,1.03)" font-size="40" text-anchor="end">0.8</text>
<text transform="translate(778.5,398.3) scale(1,1.03)" font-size="40" text-anchor="end">1.0</text>
<text transform="translate(778.5,1049.4) scale(1,1.03)" font-size="40" text-anchor="end">0.0</text>
<text transform="translate(778.5,990.2) scale(1,1.03)" font-size="40" text-anchor="end">0.2</text>
<text transform="translate(778.5,931.1) scale(1,1.03)" font-size="40" text-anchor="end">0.4</text>
<text transform="translate(778.5,871.9) scale(1,1.03)" font-size="40" text-anchor="end">0.6</text>
<text transform="translate(778.5,812.8) scale(1,1.03)" font-size="40" text-anchor="end">0.8</text>
<text transform="translate(778.5,753.6) scale(1,1.03)" font-size="40" text-anchor="end">1.0</text>
<text transform="translate(791.8,1120.0) scale(1,1.03)" font-size="40" text-anchor="middle">10<tspan font-size="24" dy="-22.8">-6</tspan></text>
<text transform="translate(867.4,1120.0) scale(1,1.03)" font-size="40" text-anchor="middle">10<tspan font-size="24" dy="-22.8">-5</tspan></text>
<text transform="translate(943.0,1120.0) scale(1,1.03)" font-size="40" text-anchor="middle">10<tspan font-size="24" dy="-22.8">-4</tspan></text>
<text transform="translate(1018.6,1120.0) scale(1,1.03)" font-size="40" text-anchor="middle">10<tspan font-size="24" dy="-22.8">-3</tspan></text>
<text transform="translate(1094.2,1120.0) scale(1,1.03)" font-size="40" text-anchor="middle">10<tspan font-size="24" dy="-22.8">-2</tspan></text>
<text transform="translate(1169.8,1120.0) scale(1,1.03)" font-size="40" text-anchor="middle">10<tspan font-size="24" dy="-22.8">-1</tspan></text>
<text transform="translate(1245.4,1120.0) scale(1,1.03)" font-size="40" text-anchor="middle">10<tspan font-size="24" dy="-22.8">0</tspan></text>
<line x1="449.6" y1="64.0" x2="492.1" y2="64.0" stroke="#000" stroke-width="5.6"/>
<text x="510.6" y="70.4" font-size="34.3">τ=<tspan dx="1">1</tspan><tspan font-family="'Liberation Sans', Arial, sans-serif" font-size="35.8" stroke="#000" stroke-width="1.1" dx="0.6">x</tspan><tspan dx="1.0">10</tspan><tspan font-size="21.5" dy="-10.5" dx="-0.1">−5</tspan></text>
<line x1="454.7" y1="406.6" x2="497.2" y2="406.6" stroke="#000" stroke-width="5.6"/>
<text x="507.8" y="413.3" font-size="34.3">τ=<tspan dx="1">1</tspan><tspan font-family="'Liberation Sans', Arial, sans-serif" font-size="35.8" stroke="#000" stroke-width="1.1" dx="0.6">x</tspan><tspan dx="1.0">10</tspan><tspan font-size="21.5" dy="-10.5" dx="-0.1">−4</tspan></text>
<line x1="454.7" y1="455.6" x2="497.2" y2="455.6" stroke="#f00" stroke-width="5.6"/>
<text x="512.2" y="462.2" font-size="34.3">τ=<tspan dx="1">1</tspan><tspan font-family="'Liberation Sans', Arial, sans-serif" font-size="35.8" stroke="#000" stroke-width="1.1" dx="0.6">x</tspan><tspan dx="1.0">10</tspan><tspan font-size="21.5" dy="-10.5" dx="-0.1">−6</tspan></text>
<line x1="458.2" y1="753.1" x2="501.0" y2="753.1" stroke="#000" stroke-width="5.6"/>
<text x="506.1" y="760.0" font-size="34.3">τ=<tspan dx="1">1</tspan><tspan font-family="'Liberation Sans', Arial, sans-serif" font-size="35.8" stroke="#000" stroke-width="1.1" dx="0.6">x</tspan><tspan dx="1.0">10</tspan><tspan font-size="21.5" dy="-10.5" dx="-0.1">−4</tspan></text>
<line x1="458.2" y1="802.0" x2="501.0" y2="802.0" stroke="#f00" stroke-width="5.6"/>
<text x="511.8" y="809.4" font-size="34.3">τ=<tspan dx="1">1</tspan><tspan font-family="'Liberation Sans', Arial, sans-serif" font-size="35.8" stroke="#000" stroke-width="1.1" dx="0.6">x</tspan><tspan dx="1.0">10</tspan><tspan font-size="21.5" dy="-10.5" dx="-0.1">−3</tspan></text>
<line x1="458.2" y1="851.0" x2="501.0" y2="851.0" stroke="#0f0" stroke-width="5.6"/>
<text x="511.8" y="858.4" font-size="34.3">τ=<tspan dx="1">1</tspan><tspan font-family="'Liberation Sans', Arial, sans-serif" font-size="35.8" stroke="#000" stroke-width="1.1" dx="0.6">x</tspan><tspan dx="1.0">10</tspan><tspan font-size="21.5" dy="-10.5" dx="-0.1">−2</tspan></text>
<text x="924.0" y="46.9" font-size="46.5">a<tspan font-size="32">)</tspan><tspan dx="-1.2">Monodispersity</tspan></text>
<text x="974.0" y="427.8" font-size="46.5">b<tspan font-size="32">)</tspan><tspan dx="-1.2">Bidispersity</tspan></text>
<text x="939.5" y="777.3" font-size="46.5">c<tspan font-size="32">)</tspan><tspan dx="-1.2">Polydispersity</tspan></text>
<text transform="translate(54.3,825.7) rotate(-90) scale(0.978,1)" font-size="79.7">Autocorrelation</text>
<text x="596.3" y="1227.9" font-size="67.3" letter-spacing="0.4">Delay (s)</text>
</g>
</svg>
</body></html>
